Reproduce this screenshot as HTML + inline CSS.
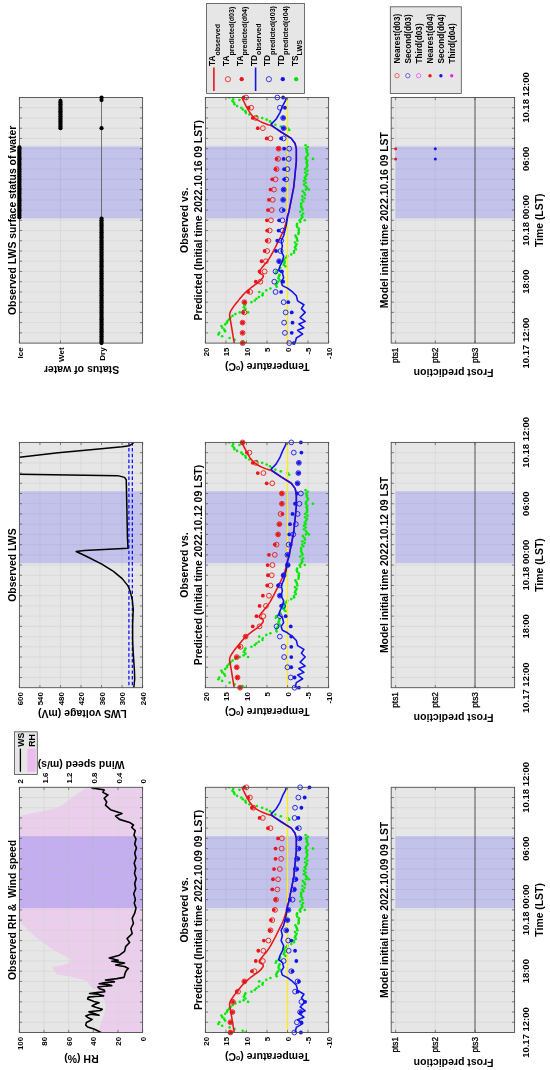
<!DOCTYPE html>
<html lang="en">
<head>
<meta charset="utf-8">
<title>Frost prediction panels</title>
<style>
html,body{margin:0;padding:0;background:#fff;}
body{width:550px;height:1070px;overflow:hidden;}
svg{display:block;}
text{font-family:"Liberation Sans",Arial,Helvetica,sans-serif;}
</style>
</head>
<body>
<svg width="550" height="1070" viewBox="0 0 550 1070" font-family="'Liberation Sans', Arial, Helvetica, sans-serif">
<rect width="550" height="1070" fill="#fff"/>
<defs>
<clipPath id="c00"><rect x="19.4" y="787.3" width="123.2" height="245.2"/></clipPath>
<clipPath id="c01"><rect x="19.4" y="442.4" width="123.2" height="245.3"/></clipPath>
<clipPath id="c02"><rect x="19.4" y="97.5" width="123.2" height="245.6"/></clipPath>
<clipPath id="c10"><rect x="205.4" y="787.3" width="123.2" height="245.2"/></clipPath>
<clipPath id="c11"><rect x="205.4" y="442.4" width="123.2" height="245.3"/></clipPath>
<clipPath id="c12"><rect x="205.4" y="97.5" width="123.2" height="245.6"/></clipPath>
<clipPath id="c20"><rect x="391.2" y="787.3" width="123.4" height="245.2"/></clipPath>
<clipPath id="c21"><rect x="391.2" y="442.4" width="123.4" height="245.3"/></clipPath>
<clipPath id="c22"><rect x="391.2" y="97.5" width="123.4" height="245.6"/></clipPath>
</defs>
<rect x="19.4" y="787.3" width="123.2" height="245.2" fill="#e6e6e6"/>
<polygon points="142.6,1032.5 99.08,1032.5 99.59,1027.77 101.12,1022.68 103.15,1017.59 104.68,1012.49 105.7,1007.4 105.44,1002.31 103.66,998.5 101.63,994.68 96.54,990.1 91.45,987.04 88.39,983.23 86.36,980.68 78.72,978.39 71.08,976.86 63.45,975.59 57.09,974.32 54.54,971.77 53.27,969.23 52,967.19 55.81,966.17 60.9,965.41 67.27,963.63 71.08,961.59 71.08,959.56 69.81,958.54 65.99,956.5 60.9,953.96 54.54,950.14 48.18,946.32 43.09,942.5 38,938.68 33.42,934.87 29.09,931.05 25.27,927.23 22.73,924.69 20.69,922.65 19.49,920.87 19.49,816.06 25.27,814.79 30.36,813.52 36.72,812.24 43.09,810.97 50.72,809.19 58.36,807.15 63.45,804.1 68.54,800.79 72.36,797.48 76.17,794.43 79.99,791.88 83.81,789.34 87.12,787.3 142.6,787.3" fill="#eaceec"/>
<path d="M19.4 1022.28H142.6M19.4 1012.07H142.6M19.4 1001.85H142.6M19.4 991.63H142.6M19.4 981.42H142.6M19.4 971.2H142.6M19.4 960.98H142.6M19.4 950.77H142.6M19.4 940.55H142.6M19.4 930.33H142.6M19.4 920.12H142.6M19.4 909.9H142.6M19.4 899.68H142.6M19.4 889.47H142.6M19.4 879.25H142.6M19.4 869.03H142.6M19.4 858.82H142.6M19.4 848.6H142.6M19.4 838.38H142.6M19.4 828.17H142.6M19.4 817.95H142.6M19.4 807.73H142.6M19.4 797.52H142.6M44.04 787.3V1032.5M68.68 787.3V1032.5M93.32 787.3V1032.5M117.96 787.3V1032.5" stroke="#d6d6d6" stroke-width="0.7" fill="none"/>
<rect x="19.4" y="836.14" width="123.2" height="71.93" fill="rgba(30,30,255,0.175)"/>
<polyline points="101,1032.5 96.55,1030.21 94,1028.94 87.64,1027.03 85.73,1025.12 86.36,1022.57 89.55,1021.05 92.09,1019.39 87.64,1017.48 85.73,1015.95 90.18,1014.3 99.09,1015.19 92.73,1013.03 88.91,1011.75 100.36,1010.48 102.27,1009.21 96.55,1007.55 92.09,1006.03 95.27,1004.12 99.09,1002.84 94,1001.57 87.64,999.03 88.27,997.12 95.27,996.48 103.55,995.84 97.82,994.32 89.55,993.55 96.55,992.66 104.82,991.77 104.18,990.12 99.73,988.84 97.82,986.94 104.18,986.3 111.82,985.66 107.36,984.39 99.09,983.75 105.46,982.48 114.36,981.84 110.55,980.57 105.46,979.94 116.91,978.66 123.91,977.39 124.55,975.48 125.18,972.94 126.46,970.39 128.36,968.48 124.55,966.57 120.73,965.94 115.64,965.04 120.73,964.03 124.55,963.01 118.18,962.12 111.82,961.23 118.18,960.21 109.26,958.03 119.44,955.23 124.53,951.41 125.81,946.32 129.62,942.5 127.08,938.68 132.17,933.59 130.9,928.5 133.44,923.41 132.17,918.32 134.71,913.23 135.99,908.14 134.2,903.05 135.22,900.51 135.22,898.78 133.7,893.69 135.73,888.6 134.71,883.51 136.24,878.42 134.46,873.33 135.73,868.24 134.2,863.15 135.99,858.06 134.71,852.97 136.5,847.88 134.71,844.06 135.99,838.97 133.95,835.15 135.22,830.57 131.66,827.51 133.44,824.97 129.62,822.42 119.44,819.37 115.62,816.06 121.99,813.52 110.53,809.7 105.44,805.12 106.72,802.06 104.17,798.24 107.99,794.94 102.9,792.39 104.17,789.85 91.95,788.06 91.95,787.3" fill="none" stroke="#000" stroke-width="1.6" stroke-linejoin="round" clip-path="url(#c00)"/>
<path d="M19.4 1022.28h2.6M142.6 1022.28h-2.6M19.4 1012.07h2.6M142.6 1012.07h-2.6M19.4 1001.85h2.6M142.6 1001.85h-2.6M19.4 991.63h2.6M142.6 991.63h-2.6M19.4 981.42h2.6M142.6 981.42h-2.6M19.4 971.2h2.6M142.6 971.2h-2.6M19.4 960.98h2.6M142.6 960.98h-2.6M19.4 950.77h2.6M142.6 950.77h-2.6M19.4 940.55h2.6M142.6 940.55h-2.6M19.4 930.33h2.6M142.6 930.33h-2.6M19.4 920.12h2.6M142.6 920.12h-2.6M19.4 909.9h2.6M142.6 909.9h-2.6M19.4 899.68h2.6M142.6 899.68h-2.6M19.4 889.47h2.6M142.6 889.47h-2.6M19.4 879.25h2.6M142.6 879.25h-2.6M19.4 869.03h2.6M142.6 869.03h-2.6M19.4 858.82h2.6M142.6 858.82h-2.6M19.4 848.6h2.6M142.6 848.6h-2.6M19.4 838.38h2.6M142.6 838.38h-2.6M19.4 828.17h2.6M142.6 828.17h-2.6M19.4 817.95h2.6M142.6 817.95h-2.6M19.4 807.73h2.6M142.6 807.73h-2.6M19.4 797.52h2.6M142.6 797.52h-2.6M19.4 1032.5v-2.6M19.4 787.3v2.6M44.04 1032.5v-2.6M44.04 787.3v2.6M68.68 1032.5v-2.6M68.68 787.3v2.6M93.32 1032.5v-2.6M93.32 787.3v2.6M117.96 1032.5v-2.6M117.96 787.3v2.6M142.6 1032.5v-2.6M142.6 787.3v2.6" stroke="#4d4d4d" stroke-width="0.7" fill="none"/>
<rect x="19.4" y="787.3" width="123.2" height="245.2" fill="none" stroke="#4d4d4d" stroke-width="0.9"/>
<text transform="translate(22.5,1036.9) scale(1.0,1) rotate(-90)" font-size="7.9" font-weight="bold" text-anchor="end" fill="#000">100</text>
<text transform="translate(47.14,1036.9) scale(1.0,1) rotate(-90)" font-size="7.9" font-weight="bold" text-anchor="end" fill="#000">80</text>
<text transform="translate(71.78,1036.9) scale(1.0,1) rotate(-90)" font-size="7.9" font-weight="bold" text-anchor="end" fill="#000">60</text>
<text transform="translate(96.42,1036.9) scale(1.0,1) rotate(-90)" font-size="7.9" font-weight="bold" text-anchor="end" fill="#000">40</text>
<text transform="translate(121.06,1036.9) scale(1.0,1) rotate(-90)" font-size="7.9" font-weight="bold" text-anchor="end" fill="#000">20</text>
<text transform="translate(145.7,1036.9) scale(1.0,1) rotate(-90)" font-size="7.9" font-weight="bold" text-anchor="end" fill="#000">0</text>
<text transform="translate(23,783.5) scale(1.0,1) rotate(-90)" font-size="7.9" font-weight="bold" text-anchor="start" fill="#000">2</text>
<text transform="translate(47.64,783.5) scale(1.0,1) rotate(-90)" font-size="7.9" font-weight="bold" text-anchor="start" fill="#000">1.6</text>
<text transform="translate(72.28,783.5) scale(1.0,1) rotate(-90)" font-size="7.9" font-weight="bold" text-anchor="start" fill="#000">1.2</text>
<text transform="translate(96.92,783.5) scale(1.0,1) rotate(-90)" font-size="7.9" font-weight="bold" text-anchor="start" fill="#000">0.8</text>
<text transform="translate(121.56,783.5) scale(1.0,1) rotate(-90)" font-size="7.9" font-weight="bold" text-anchor="start" fill="#000">0.4</text>
<text transform="translate(146.2,783.5) scale(1.0,1) rotate(-90)" font-size="7.9" font-weight="bold" text-anchor="start" fill="#000">0</text>
<text transform="translate(81.5,1054.6) scale(1.0,1) rotate(180)" font-size="10.5" font-weight="bold" text-anchor="middle" fill="#000">RH (%)</text>
<text transform="translate(81.1,760.5) scale(1.0,1) rotate(180)" font-size="10.5" font-weight="bold" text-anchor="middle" fill="#000">Wind speed (m/s)</text>
<text transform="translate(15.7,909.9) scale(1.0,1) rotate(-90)" font-size="10.4" font-weight="bold" text-anchor="middle" fill="#000">Observed RH &amp;&#160; Wind speed</text>
<rect x="14.5" y="731.8" width="22.8" height="42.7" fill="#e6e6e6" stroke="#4d4d4d" stroke-width="0.8"/>
<path d="M20.4 748.7V771.8" stroke="#000" stroke-width="1.3"/>
<rect x="27.3" y="748.7" width="8.5" height="23.1" fill="#eebbee"/>
<text transform="translate(24.1,746.8) scale(1.0,1) rotate(-90)" font-size="8.7" font-weight="bold" text-anchor="start" fill="#000">WS</text>
<text transform="translate(34.7,746.8) scale(1.0,1) rotate(-90)" font-size="8.7" font-weight="bold" text-anchor="start" fill="#000">RH</text>
<rect x="19.4" y="442.4" width="123.2" height="245.3" fill="#e6e6e6"/>
<path d="M19.4 677.48H142.6M19.4 667.26H142.6M19.4 657.04H142.6M19.4 646.82H142.6M19.4 636.6H142.6M19.4 626.38H142.6M19.4 616.15H142.6M19.4 605.93H142.6M19.4 595.71H142.6M19.4 585.49H142.6M19.4 575.27H142.6M19.4 565.05H142.6M19.4 554.83H142.6M19.4 544.61H142.6M19.4 534.39H142.6M19.4 524.17H142.6M19.4 513.95H142.6M19.4 503.73H142.6M19.4 493.5H142.6M19.4 483.28H142.6M19.4 473.06H142.6M19.4 462.84H142.6M19.4 452.62H142.6M39.93 442.4V687.7M60.47 442.4V687.7M81 442.4V687.7M101.53 442.4V687.7M122.07 442.4V687.7" stroke="#d6d6d6" stroke-width="0.7" fill="none"/>
<rect x="19.4" y="491.26" width="123.2" height="71.95" fill="rgba(30,30,255,0.175)"/>
<path d="M128.91 442.4V687.7" stroke="#0000ff" stroke-width="1.2" stroke-dasharray="3.4,2.3" fill="none"/>
<path d="M132.33 442.4V687.7" stroke="#0000ff" stroke-width="1.2" stroke-dasharray="3.4,2.3" fill="none"/>
<polyline points="133.82,687.7 134.69,678.97 134.4,670.25 133.24,652.79 132.65,641.15 132.65,623.7 133.24,609.15 132.36,600.43 130.33,591.7 128,585.88 122.18,578.61 113.45,571.34 101.82,564.06 87.27,556.79 76.22,551.55 84.36,550.39 128,548.35 127.42,536.43 126.84,507.34 126.25,479.7 124.51,477.37 117.82,475.63 19.49,474.17 -58.18,473.3 -58.18,458.75 19.49,457.3 58.18,452.65 96,449.15 122.18,446.83 129.45,445.66 133.82,442.75" fill="none" stroke="#000" stroke-width="1.5" stroke-linejoin="round" clip-path="url(#c01)"/>
<path d="M19.4 677.48h2.6M142.6 677.48h-2.6M19.4 667.26h2.6M142.6 667.26h-2.6M19.4 657.04h2.6M142.6 657.04h-2.6M19.4 646.82h2.6M142.6 646.82h-2.6M19.4 636.6h2.6M142.6 636.6h-2.6M19.4 626.38h2.6M142.6 626.38h-2.6M19.4 616.15h2.6M142.6 616.15h-2.6M19.4 605.93h2.6M142.6 605.93h-2.6M19.4 595.71h2.6M142.6 595.71h-2.6M19.4 585.49h2.6M142.6 585.49h-2.6M19.4 575.27h2.6M142.6 575.27h-2.6M19.4 565.05h2.6M142.6 565.05h-2.6M19.4 554.83h2.6M142.6 554.83h-2.6M19.4 544.61h2.6M142.6 544.61h-2.6M19.4 534.39h2.6M142.6 534.39h-2.6M19.4 524.17h2.6M142.6 524.17h-2.6M19.4 513.95h2.6M142.6 513.95h-2.6M19.4 503.73h2.6M142.6 503.73h-2.6M19.4 493.5h2.6M142.6 493.5h-2.6M19.4 483.28h2.6M142.6 483.28h-2.6M19.4 473.06h2.6M142.6 473.06h-2.6M19.4 462.84h2.6M142.6 462.84h-2.6M19.4 452.62h2.6M142.6 452.62h-2.6M19.4 687.7v-2.6M19.4 442.4v2.6M39.93 687.7v-2.6M39.93 442.4v2.6M60.47 687.7v-2.6M60.47 442.4v2.6M81 687.7v-2.6M81 442.4v2.6M101.53 687.7v-2.6M101.53 442.4v2.6M122.07 687.7v-2.6M122.07 442.4v2.6M142.6 687.7v-2.6M142.6 442.4v2.6" stroke="#4d4d4d" stroke-width="0.7" fill="none"/>
<rect x="19.4" y="442.4" width="123.2" height="245.3" fill="none" stroke="#4d4d4d" stroke-width="0.9"/>
<text transform="translate(22.5,692.1) scale(1.0,1) rotate(-90)" font-size="7.9" font-weight="bold" text-anchor="end" fill="#000">600</text>
<text transform="translate(43.03,692.1) scale(1.0,1) rotate(-90)" font-size="7.9" font-weight="bold" text-anchor="end" fill="#000">540</text>
<text transform="translate(63.57,692.1) scale(1.0,1) rotate(-90)" font-size="7.9" font-weight="bold" text-anchor="end" fill="#000">480</text>
<text transform="translate(84.1,692.1) scale(1.0,1) rotate(-90)" font-size="7.9" font-weight="bold" text-anchor="end" fill="#000">420</text>
<text transform="translate(104.63,692.1) scale(1.0,1) rotate(-90)" font-size="7.9" font-weight="bold" text-anchor="end" fill="#000">360</text>
<text transform="translate(125.17,692.1) scale(1.0,1) rotate(-90)" font-size="7.9" font-weight="bold" text-anchor="end" fill="#000">300</text>
<text transform="translate(145.7,692.1) scale(1.0,1) rotate(-90)" font-size="7.9" font-weight="bold" text-anchor="end" fill="#000">240</text>
<text transform="translate(82.3,710.4) scale(1.0,1) rotate(180)" font-size="10.5" font-weight="bold" text-anchor="middle" fill="#000">LWS voltage (mV)</text>
<text transform="translate(15.7,565.05) scale(1.0,1) rotate(-90)" font-size="10.4" font-weight="bold" text-anchor="middle" fill="#000">Observed LWS</text>
<rect x="19.4" y="97.5" width="123.2" height="245.6" fill="#e6e6e6"/>
<path d="M19.4 332.87H142.6M19.4 322.63H142.6M19.4 312.4H142.6M19.4 302.17H142.6M19.4 291.93H142.6M19.4 281.7H142.6M19.4 271.47H142.6M19.4 261.23H142.6M19.4 251H142.6M19.4 240.77H142.6M19.4 230.53H142.6M19.4 220.3H142.6M19.4 210.07H142.6M19.4 199.83H142.6M19.4 189.6H142.6M19.4 179.37H142.6M19.4 169.13H142.6M19.4 158.9H142.6M19.4 148.67H142.6M19.4 138.43H142.6M19.4 128.2H142.6M19.4 117.97H142.6M19.4 107.73H142.6M60.47 97.5V343.1" stroke="#d6d6d6" stroke-width="0.7" fill="none"/>
<rect x="19.4" y="146.42" width="123.2" height="72.04" fill="rgba(30,30,255,0.175)"/>
<path d="M101.53 97.5V343.1" stroke="#555" stroke-width="0.8"/>
<path d="M19.4 332.87h2.6M142.6 332.87h-2.6M19.4 322.63h2.6M142.6 322.63h-2.6M19.4 312.4h2.6M142.6 312.4h-2.6M19.4 302.17h2.6M142.6 302.17h-2.6M19.4 291.93h2.6M142.6 291.93h-2.6M19.4 281.7h2.6M142.6 281.7h-2.6M19.4 271.47h2.6M142.6 271.47h-2.6M19.4 261.23h2.6M142.6 261.23h-2.6M19.4 251h2.6M142.6 251h-2.6M19.4 240.77h2.6M142.6 240.77h-2.6M19.4 230.53h2.6M142.6 230.53h-2.6M19.4 220.3h2.6M142.6 220.3h-2.6M19.4 210.07h2.6M142.6 210.07h-2.6M19.4 199.83h2.6M142.6 199.83h-2.6M19.4 189.6h2.6M142.6 189.6h-2.6M19.4 179.37h2.6M142.6 179.37h-2.6M19.4 169.13h2.6M142.6 169.13h-2.6M19.4 158.9h2.6M142.6 158.9h-2.6M19.4 148.67h2.6M142.6 148.67h-2.6M19.4 138.43h2.6M142.6 138.43h-2.6M19.4 128.2h2.6M142.6 128.2h-2.6M19.4 117.97h2.6M142.6 117.97h-2.6M19.4 107.73h2.6M142.6 107.73h-2.6M19.4 343.1v-2.6M19.4 97.5v2.6M60.47 343.1v-2.6M60.47 97.5v2.6M101.53 343.1v-2.6M101.53 97.5v2.6" stroke="#4d4d4d" stroke-width="0.7" fill="none"/>
<rect x="19.4" y="97.5" width="123.2" height="245.6" fill="none" stroke="#4d4d4d" stroke-width="0.9"/>
<g fill="#000"><circle cx="101.53" cy="343.1" r="2.1"/><circle cx="101.53" cy="341.39" r="2.1"/><circle cx="101.53" cy="339.69" r="2.1"/><circle cx="101.53" cy="337.98" r="2.1"/><circle cx="101.53" cy="336.28" r="2.1"/><circle cx="101.53" cy="334.57" r="2.1"/><circle cx="101.53" cy="332.87" r="2.1"/><circle cx="101.53" cy="331.16" r="2.1"/><circle cx="101.53" cy="329.46" r="2.1"/><circle cx="101.53" cy="327.75" r="2.1"/><circle cx="101.53" cy="326.04" r="2.1"/><circle cx="101.53" cy="324.34" r="2.1"/><circle cx="101.53" cy="322.63" r="2.1"/><circle cx="101.53" cy="320.93" r="2.1"/><circle cx="101.53" cy="319.22" r="2.1"/><circle cx="101.53" cy="317.52" r="2.1"/><circle cx="101.53" cy="315.81" r="2.1"/><circle cx="101.53" cy="314.11" r="2.1"/><circle cx="101.53" cy="312.4" r="2.1"/><circle cx="101.53" cy="310.69" r="2.1"/><circle cx="101.53" cy="308.99" r="2.1"/><circle cx="101.53" cy="307.28" r="2.1"/><circle cx="101.53" cy="305.58" r="2.1"/><circle cx="101.53" cy="303.87" r="2.1"/><circle cx="101.53" cy="302.17" r="2.1"/><circle cx="101.53" cy="300.46" r="2.1"/><circle cx="101.53" cy="298.76" r="2.1"/><circle cx="101.53" cy="297.05" r="2.1"/><circle cx="101.53" cy="295.34" r="2.1"/><circle cx="101.53" cy="293.64" r="2.1"/><circle cx="101.53" cy="291.93" r="2.1"/><circle cx="101.53" cy="290.23" r="2.1"/><circle cx="101.53" cy="288.52" r="2.1"/><circle cx="101.53" cy="286.82" r="2.1"/><circle cx="101.53" cy="285.11" r="2.1"/><circle cx="101.53" cy="283.41" r="2.1"/><circle cx="101.53" cy="281.7" r="2.1"/><circle cx="101.53" cy="279.99" r="2.1"/><circle cx="101.53" cy="278.29" r="2.1"/><circle cx="101.53" cy="276.58" r="2.1"/><circle cx="101.53" cy="274.88" r="2.1"/><circle cx="101.53" cy="273.17" r="2.1"/><circle cx="101.53" cy="271.47" r="2.1"/><circle cx="101.53" cy="269.76" r="2.1"/><circle cx="101.53" cy="268.06" r="2.1"/><circle cx="101.53" cy="266.35" r="2.1"/><circle cx="101.53" cy="264.64" r="2.1"/><circle cx="101.53" cy="262.94" r="2.1"/><circle cx="101.53" cy="261.23" r="2.1"/><circle cx="101.53" cy="259.53" r="2.1"/><circle cx="101.53" cy="257.82" r="2.1"/><circle cx="101.53" cy="256.12" r="2.1"/><circle cx="101.53" cy="254.41" r="2.1"/><circle cx="101.53" cy="252.71" r="2.1"/><circle cx="101.53" cy="251" r="2.1"/><circle cx="101.53" cy="249.29" r="2.1"/><circle cx="101.53" cy="247.59" r="2.1"/><circle cx="101.53" cy="245.88" r="2.1"/><circle cx="101.53" cy="244.18" r="2.1"/><circle cx="101.53" cy="242.47" r="2.1"/><circle cx="101.53" cy="240.77" r="2.1"/><circle cx="101.53" cy="239.06" r="2.1"/><circle cx="101.53" cy="237.36" r="2.1"/><circle cx="101.53" cy="235.65" r="2.1"/><circle cx="101.53" cy="233.94" r="2.1"/><circle cx="101.53" cy="232.24" r="2.1"/><circle cx="101.53" cy="230.53" r="2.1"/><circle cx="101.53" cy="228.83" r="2.1"/><circle cx="101.53" cy="227.12" r="2.1"/><circle cx="101.53" cy="225.42" r="2.1"/><circle cx="101.53" cy="223.71" r="2.1"/><circle cx="101.53" cy="222.01" r="2.1"/><circle cx="101.53" cy="220.3" r="2.1"/><circle cx="101.53" cy="218.59" r="2.1"/></g>
<g fill="#000"><circle cx="19.4" cy="217.23" r="2.1"/><circle cx="19.4" cy="215.52" r="2.1"/><circle cx="19.4" cy="213.82" r="2.1"/><circle cx="19.4" cy="212.11" r="2.1"/><circle cx="19.4" cy="210.41" r="2.1"/><circle cx="19.4" cy="208.7" r="2.1"/><circle cx="19.4" cy="207" r="2.1"/><circle cx="19.4" cy="205.29" r="2.1"/><circle cx="19.4" cy="203.59" r="2.1"/><circle cx="19.4" cy="201.88" r="2.1"/><circle cx="19.4" cy="200.17" r="2.1"/><circle cx="19.4" cy="198.47" r="2.1"/><circle cx="19.4" cy="196.76" r="2.1"/><circle cx="19.4" cy="195.06" r="2.1"/><circle cx="19.4" cy="193.35" r="2.1"/><circle cx="19.4" cy="191.65" r="2.1"/><circle cx="19.4" cy="189.94" r="2.1"/><circle cx="19.4" cy="188.24" r="2.1"/><circle cx="19.4" cy="186.53" r="2.1"/><circle cx="19.4" cy="184.82" r="2.1"/><circle cx="19.4" cy="183.12" r="2.1"/><circle cx="19.4" cy="181.41" r="2.1"/><circle cx="19.4" cy="179.71" r="2.1"/><circle cx="19.4" cy="178" r="2.1"/><circle cx="19.4" cy="176.3" r="2.1"/><circle cx="19.4" cy="174.59" r="2.1"/><circle cx="19.4" cy="172.89" r="2.1"/><circle cx="19.4" cy="171.18" r="2.1"/><circle cx="19.4" cy="169.47" r="2.1"/><circle cx="19.4" cy="167.77" r="2.1"/><circle cx="19.4" cy="166.06" r="2.1"/><circle cx="19.4" cy="164.36" r="2.1"/><circle cx="19.4" cy="162.65" r="2.1"/><circle cx="19.4" cy="160.95" r="2.1"/><circle cx="19.4" cy="159.24" r="2.1"/><circle cx="19.4" cy="157.54" r="2.1"/><circle cx="19.4" cy="155.83" r="2.1"/><circle cx="19.4" cy="154.12" r="2.1"/><circle cx="19.4" cy="152.42" r="2.1"/><circle cx="19.4" cy="150.71" r="2.1"/><circle cx="19.4" cy="149.01" r="2.1"/><circle cx="19.4" cy="147.3" r="2.1"/></g>
<g fill="#000"><circle cx="60.47" cy="128.2" r="2.1"/><circle cx="60.47" cy="126.49" r="2.1"/><circle cx="60.47" cy="124.79" r="2.1"/><circle cx="60.47" cy="123.08" r="2.1"/><circle cx="60.47" cy="121.38" r="2.1"/><circle cx="60.47" cy="119.67" r="2.1"/><circle cx="60.47" cy="117.97" r="2.1"/><circle cx="60.47" cy="116.26" r="2.1"/><circle cx="60.47" cy="114.56" r="2.1"/><circle cx="60.47" cy="112.85" r="2.1"/><circle cx="60.47" cy="111.14" r="2.1"/><circle cx="60.47" cy="109.44" r="2.1"/><circle cx="60.47" cy="107.73" r="2.1"/><circle cx="60.47" cy="106.03" r="2.1"/><circle cx="60.47" cy="104.32" r="2.1"/><circle cx="60.47" cy="102.62" r="2.1"/><circle cx="60.47" cy="100.91" r="2.1"/></g>
<g fill="#000"><circle cx="101.53" cy="128.2" r="2.1"/></g>
<g fill="#000"><circle cx="101.53" cy="100.06" r="2.1"/><circle cx="101.53" cy="97.5" r="2.1"/></g>
<text transform="translate(22.7,347.4) scale(1.0,1) rotate(-90)" font-size="8" font-weight="bold" text-anchor="end" fill="#000">Ice</text>
<text transform="translate(63.77,347.4) scale(1.0,1) rotate(-90)" font-size="8" font-weight="bold" text-anchor="end" fill="#000">Wet</text>
<text transform="translate(104.83,347.4) scale(1.0,1) rotate(-90)" font-size="8" font-weight="bold" text-anchor="end" fill="#000">Dry</text>
<text transform="translate(81.5,366.4) scale(1.0,1) rotate(180)" font-size="10.5" font-weight="bold" text-anchor="middle" fill="#000">Status of water</text>
<text transform="translate(15.7,220.3) scale(1.0,1) rotate(-90)" font-size="10.4" font-weight="bold" text-anchor="middle" fill="#000">Observed LWS surface status of water</text>
<rect x="205.4" y="787.3" width="123.2" height="245.2" fill="#e6e6e6"/>
<path d="M205.4 1022.28H328.6M205.4 1012.07H328.6M205.4 1001.85H328.6M205.4 991.63H328.6M205.4 981.42H328.6M205.4 971.2H328.6M205.4 960.98H328.6M205.4 950.77H328.6M205.4 940.55H328.6M205.4 930.33H328.6M205.4 920.12H328.6M205.4 909.9H328.6M205.4 899.68H328.6M205.4 889.47H328.6M205.4 879.25H328.6M205.4 869.03H328.6M205.4 858.82H328.6M205.4 848.6H328.6M205.4 838.38H328.6M205.4 828.17H328.6M205.4 817.95H328.6M205.4 807.73H328.6M205.4 797.52H328.6M225.93 787.3V1032.5M246.47 787.3V1032.5M267 787.3V1032.5M287.53 787.3V1032.5M308.07 787.3V1032.5" stroke="#d6d6d6" stroke-width="0.7" fill="none"/>
<rect x="205.4" y="836.14" width="123.2" height="71.93" fill="rgba(30,30,255,0.175)"/>
<g clip-path="url(#c10)">
<g fill="#05ea05"><circle cx="245.01" cy="1032.5" r="1.3"/><circle cx="242.68" cy="1030.8" r="1.3"/><circle cx="234.57" cy="1029.09" r="1.3"/><circle cx="229.6" cy="1027.39" r="1.3"/><circle cx="222.17" cy="1025.69" r="1.3"/><circle cx="218.38" cy="1023.99" r="1.3"/><circle cx="219.22" cy="1022.28" r="1.3"/><circle cx="225.1" cy="1020.58" r="1.3"/><circle cx="224.19" cy="1018.88" r="1.3"/><circle cx="222.34" cy="1017.17" r="1.3"/><circle cx="221.4" cy="1015.47" r="1.3"/><circle cx="225.24" cy="1013.77" r="1.3"/><circle cx="226.85" cy="1012.07" r="1.3"/><circle cx="227.56" cy="1010.36" r="1.3"/><circle cx="229.12" cy="1008.66" r="1.3"/><circle cx="230.5" cy="1006.96" r="1.3"/><circle cx="232.64" cy="1005.26" r="1.3"/><circle cx="235.39" cy="1003.55" r="1.3"/><circle cx="239.74" cy="1001.85" r="1.3"/><circle cx="243.6" cy="1000.15" r="1.3"/><circle cx="245.41" cy="998.44" r="1.3"/><circle cx="243.82" cy="996.74" r="1.3"/><circle cx="244.67" cy="995.04" r="1.3"/><circle cx="245.41" cy="993.34" r="1.3"/><circle cx="251.48" cy="991.63" r="1.3"/><circle cx="254.77" cy="989.93" r="1.3"/><circle cx="256.43" cy="988.23" r="1.3"/><circle cx="258.83" cy="986.52" r="1.3"/><circle cx="262.46" cy="984.82" r="1.3"/><circle cx="262.76" cy="983.12" r="1.3"/><circle cx="259.27" cy="981.42" r="1.3"/><circle cx="266.28" cy="979.71" r="1.3"/><circle cx="270.43" cy="978.01" r="1.3"/><circle cx="276.67" cy="976.31" r="1.3"/><circle cx="276.08" cy="974.61" r="1.3"/><circle cx="276.93" cy="972.9" r="1.3"/><circle cx="278.1" cy="971.2" r="1.3"/><circle cx="279.67" cy="969.5" r="1.3"/><circle cx="278.45" cy="967.79" r="1.3"/><circle cx="278.84" cy="966.09" r="1.3"/><circle cx="279.51" cy="964.39" r="1.3"/><circle cx="275.74" cy="962.69" r="1.3"/><circle cx="276.44" cy="960.98" r="1.3"/><circle cx="279.18" cy="959.28" r="1.3"/><circle cx="280.26" cy="957.58" r="1.3"/><circle cx="285.38" cy="955.88" r="1.3"/><circle cx="283.81" cy="954.17" r="1.3"/><circle cx="284.46" cy="952.47" r="1.3"/><circle cx="284.49" cy="950.77" r="1.3"/><circle cx="284.08" cy="949.06" r="1.3"/><circle cx="285.71" cy="947.36" r="1.3"/><circle cx="287.4" cy="945.66" r="1.3"/><circle cx="291.3" cy="943.96" r="1.3"/><circle cx="294.06" cy="942.25" r="1.3"/><circle cx="294.05" cy="940.55" r="1.3"/><circle cx="295.84" cy="938.85" r="1.3"/><circle cx="294.96" cy="937.14" r="1.3"/><circle cx="295.76" cy="935.44" r="1.3"/><circle cx="296.65" cy="933.74" r="1.3"/><circle cx="295.03" cy="932.04" r="1.3"/><circle cx="297.39" cy="930.33" r="1.3"/><circle cx="297.01" cy="928.63" r="1.3"/><circle cx="296.34" cy="926.93" r="1.3"/><circle cx="295.42" cy="925.23" r="1.3"/><circle cx="298.48" cy="923.52" r="1.3"/><circle cx="298.74" cy="921.82" r="1.3"/><circle cx="298.65" cy="920.12" r="1.3"/><circle cx="299.03" cy="918.41" r="1.3"/><circle cx="297.25" cy="916.71" r="1.3"/><circle cx="296.81" cy="915.01" r="1.3"/><circle cx="297.1" cy="913.31" r="1.3"/><circle cx="300.34" cy="911.6" r="1.3"/><circle cx="299.67" cy="909.9" r="1.3"/><circle cx="301.25" cy="908.2" r="1.3"/><circle cx="302.35" cy="906.49" r="1.3"/><circle cx="301.78" cy="904.79" r="1.3"/><circle cx="303.15" cy="903.09" r="1.3"/><circle cx="300.25" cy="901.39" r="1.3"/><circle cx="302.53" cy="899.68" r="1.3"/><circle cx="302.09" cy="897.98" r="1.3"/><circle cx="301.04" cy="896.28" r="1.3"/><circle cx="301.22" cy="894.57" r="1.3"/><circle cx="301.09" cy="892.87" r="1.3"/><circle cx="303.3" cy="891.17" r="1.3"/><circle cx="302.16" cy="889.47" r="1.3"/><circle cx="304.53" cy="887.76" r="1.3"/><circle cx="302.34" cy="886.06" r="1.3"/><circle cx="305.08" cy="884.36" r="1.3"/><circle cx="304.31" cy="882.66" r="1.3"/><circle cx="302.81" cy="880.95" r="1.3"/><circle cx="305.92" cy="879.25" r="1.3"/><circle cx="307.06" cy="877.55" r="1.3"/><circle cx="305.8" cy="875.84" r="1.3"/><circle cx="303.97" cy="874.14" r="1.3"/><circle cx="305.72" cy="872.44" r="1.3"/><circle cx="303.92" cy="870.74" r="1.3"/><circle cx="305.64" cy="869.03" r="1.3"/><circle cx="304.79" cy="867.33" r="1.3"/><circle cx="306.02" cy="865.63" r="1.3"/><circle cx="306.98" cy="863.92" r="1.3"/><circle cx="305.21" cy="862.22" r="1.3"/><circle cx="307.44" cy="860.52" r="1.3"/><circle cx="305.16" cy="858.82" r="1.3"/><circle cx="306.7" cy="857.11" r="1.3"/><circle cx="307.26" cy="855.41" r="1.3"/><circle cx="307.1" cy="853.71" r="1.3"/><circle cx="306.52" cy="852.01" r="1.3"/><circle cx="307.22" cy="850.3" r="1.3"/><circle cx="305.92" cy="848.6" r="1.3"/><circle cx="306.12" cy="846.9" r="1.3"/><circle cx="307.51" cy="845.19" r="1.3"/><circle cx="307.94" cy="843.49" r="1.3"/><circle cx="306.75" cy="841.79" r="1.3"/><circle cx="306.96" cy="840.09" r="1.3"/><circle cx="306.15" cy="838.38" r="1.3"/><circle cx="307.79" cy="836.68" r="1.3"/><circle cx="305.56" cy="834.98" r="1.3"/><circle cx="289.24" cy="819.65" r="1.3"/><circle cx="287.76" cy="817.95" r="1.3"/><circle cx="280.83" cy="816.25" r="1.3"/><circle cx="275.35" cy="814.54" r="1.3"/><circle cx="271.88" cy="812.84" r="1.3"/><circle cx="269.95" cy="811.14" r="1.3"/><circle cx="266.68" cy="809.44" r="1.3"/><circle cx="262.19" cy="807.73" r="1.3"/><circle cx="256.77" cy="806.03" r="1.3"/><circle cx="249.41" cy="804.33" r="1.3"/><circle cx="245.89" cy="802.62" r="1.3"/><circle cx="245.35" cy="800.92" r="1.3"/><circle cx="242.83" cy="799.22" r="1.3"/><circle cx="241.33" cy="797.52" r="1.3"/><circle cx="237.1" cy="795.81" r="1.3"/><circle cx="234.52" cy="794.11" r="1.3"/><circle cx="233.85" cy="792.41" r="1.3"/><circle cx="232.42" cy="790.71" r="1.3"/><circle cx="233.17" cy="789" r="1.3"/><circle cx="229.26" cy="787.3" r="1.3"/><circle cx="312.99" cy="848.6" r="1.3"/><circle cx="308.89" cy="879.25" r="1.3"/><circle cx="304.78" cy="909.9" r="1.3"/><circle cx="248.11" cy="1001.85" r="1.3"/><circle cx="239.49" cy="789.85" r="1.3"/></g>
<path d="M287.53 787.3V1032.5" stroke="#ffee00" stroke-width="1.2"/>
<polyline points="234.22,1032.5 234.14,1032.02 233.99,1031.06 233.75,1029.63 233.43,1027.71 233.11,1025.8 232.8,1023.89 232.48,1021.97 232.16,1020.06 231.85,1018.14 231.53,1016.23 231.21,1014.32 230.9,1012.4 230.58,1010.57 230.26,1008.81 229.94,1007.14 229.63,1005.54 229.63,1003.95 229.94,1002.35 230.58,1000.76 231.53,999.16 232.56,997.57 233.67,995.97 234.86,994.38 236.12,992.78 237.47,991.11 238.9,989.35 240.4,987.52 241.99,985.6 243.65,983.77 245.39,982.01 247.21,980.34 249.12,978.74 251.02,977.23 252.92,975.79 254.82,974.44 256.72,973.16 258.46,971.8 260.05,970.37 261.47,968.85 262.74,967.26 263.3,965.9 263.14,964.79 262.27,963.91 260.68,963.27 259.65,962.55 259.18,961.75 259.26,960.88 259.89,959.92 260.84,958.64 262.11,957.05 263.69,955.13 265.59,952.9 267.34,950.67 268.92,948.44 270.35,946.2 271.61,943.97 272.88,941.66 274.15,939.26 275.42,936.79 276.68,934.24 277.95,931.69 279.22,929.13 280.49,926.58 281.75,924.03 282.89,921.48 283.91,918.92 284.8,916.37 285.56,913.82 286.17,911.59 286.65,909.67 286.98,908.08 287.17,906.8 287.31,905.84 287.41,905.21 287.46,904.89 288.72,902.15 291.26,889.39 293.79,876.63 295.06,863.87 296.33,851.11 296.33,838.35 295.06,833.24 291.26,828.14 281.12,821.76 273.51,816.65 270.98,815.37 270.5,815.22 269.55,814.9 268.13,814.42 266.23,813.78 264.33,813.06 262.42,812.26 260.52,811.39 258.62,810.43 256.88,809.39 255.29,808.28 253.87,807.08 252.6,805.8 251.41,804.45 250.3,803.01 249.27,801.5 248.32,799.9 247.45,798.39 246.66,796.95 245.95,795.59 245.31,794.32 244.68,793.04 244.05,791.77 243.41,790.49 242.78,789.21 242.3,788.26 241.99,787.62 241.83,787.3" fill="none" stroke="#ea1418" stroke-width="1.55" stroke-linejoin="round"/>
<polyline points="295.06,1032.5 296.33,1027.4 302.67,1023.57 297.6,1019.74 303.93,1017.19 298.86,1013.36 305.2,1010.81 300.13,1006.98 305.2,1001.87 301.4,998.04 303.93,994.22 297.6,990.39 296.33,985.28 292.53,981.45 287.46,977.63 282.39,975.07 281.12,971.25 283.65,967.42 282.39,962.31 278.58,959.76 279.85,955.93 282.39,950.83 283.65,945.72 281.12,940.62 282.39,935.51 281.12,930.41 283.65,925.31 284.92,920.2 286.19,915.1 287.46,907.44 286.7,909.81 288.72,902.15 291.26,889.39 293.79,876.63 295.06,863.87 296.33,851.11 296.33,838.35 295.06,833.24 291.26,828.14 281.12,821.76 273.51,816.65 270.98,814.1 276.05,808.99 279.85,802.61 282.39,796.23 285.68,789.85 286.19,787.3" fill="none" stroke="#1010ee" stroke-width="1.55" stroke-linejoin="round"/>
</g>
<g fill="none" stroke="#e8161a" stroke-width="0.9"><circle cx="230.42" cy="1032.5" r="2.4"/><circle cx="230.42" cy="1022.28" r="2.4"/><circle cx="232.45" cy="1012.07" r="2.4"/><circle cx="232.96" cy="1001.85" r="2.4"/><circle cx="238.03" cy="991.63" r="2.4"/><circle cx="244.36" cy="981.42" r="2.4"/><circle cx="254.5" cy="971.2" r="2.4"/><circle cx="262.87" cy="960.98" r="2.4"/><circle cx="263.37" cy="950.77" r="2.4"/><circle cx="268.44" cy="940.55" r="2.4"/><circle cx="270.47" cy="930.33" r="2.4"/><circle cx="272.25" cy="920.12" r="2.4"/><circle cx="275.04" cy="909.9" r="2.4"/><circle cx="276.05" cy="899.68" r="2.4"/><circle cx="277.32" cy="889.47" r="2.4"/><circle cx="278.08" cy="879.25" r="2.4"/><circle cx="279.85" cy="869.03" r="2.4"/><circle cx="281.12" cy="858.82" r="2.4"/><circle cx="281.63" cy="848.6" r="2.4"/><circle cx="281.88" cy="838.38" r="2.4"/><circle cx="270.47" cy="828.17" r="2.4"/><circle cx="262.87" cy="817.95" r="2.4"/><circle cx="253.24" cy="807.73" r="2.4"/><circle cx="249.94" cy="797.52" r="2.4"/><circle cx="246.39" cy="787.3" r="2.4"/></g>
<g fill="#e8161a"><circle cx="230.42" cy="1032.5" r="1.9"/><circle cx="230.42" cy="1022.28" r="1.9"/><circle cx="232.45" cy="1012.07" r="1.9"/><circle cx="232.96" cy="1001.85" r="1.9"/><circle cx="236.76" cy="991.63" r="1.9"/><circle cx="244.36" cy="981.42" r="1.9"/><circle cx="251.97" cy="971.2" r="1.9"/><circle cx="255.77" cy="960.98" r="1.9"/><circle cx="258.31" cy="950.77" r="1.9"/><circle cx="263.88" cy="940.55" r="1.9"/><circle cx="269.97" cy="930.33" r="1.9"/><circle cx="270.98" cy="920.12" r="1.9"/><circle cx="273.77" cy="909.9" r="1.9"/><circle cx="275.54" cy="899.68" r="1.9"/><circle cx="272.25" cy="889.47" r="1.9"/><circle cx="273.01" cy="879.25" r="1.9"/><circle cx="274.02" cy="869.03" r="1.9"/><circle cx="275.54" cy="858.82" r="1.9"/><circle cx="275.54" cy="848.6" r="1.9"/><circle cx="278.08" cy="838.38" r="1.9"/><circle cx="267.94" cy="828.17" r="1.9"/><circle cx="259.57" cy="817.95" r="1.9"/><circle cx="251.97" cy="807.73" r="1.9"/><circle cx="248.17" cy="797.52" r="1.9"/><circle cx="244.36" cy="787.3" r="1.9"/></g>
<g fill="none" stroke="#1414e6" stroke-width="0.9"><circle cx="294.3" cy="1032.5" r="2.4"/><circle cx="296.84" cy="1022.28" r="2.4"/><circle cx="300.13" cy="1012.07" r="2.4"/><circle cx="301.4" cy="1001.85" r="2.4"/><circle cx="295.06" cy="991.63" r="2.4"/><circle cx="297.6" cy="981.42" r="2.4"/><circle cx="291.26" cy="971.2" r="2.4"/><circle cx="283.65" cy="960.98" r="2.4"/><circle cx="288.72" cy="950.77" r="2.4"/><circle cx="288.22" cy="940.55" r="2.4"/><circle cx="286.19" cy="930.33" r="2.4"/><circle cx="287.46" cy="920.12" r="2.4"/><circle cx="288.47" cy="909.9" r="2.4"/><circle cx="292.53" cy="899.68" r="2.4"/><circle cx="293.79" cy="889.47" r="2.4"/><circle cx="295.06" cy="879.25" r="2.4"/><circle cx="295.82" cy="869.03" r="2.4"/><circle cx="297.09" cy="858.82" r="2.4"/><circle cx="298.36" cy="848.6" r="2.4"/><circle cx="299.37" cy="838.38" r="2.4"/><circle cx="298.86" cy="828.17" r="2.4"/><circle cx="294.56" cy="817.95" r="2.4"/><circle cx="295.06" cy="807.73" r="2.4"/><circle cx="298.36" cy="797.52" r="2.4"/><circle cx="300.13" cy="787.3" r="2.4"/></g>
<g fill="#1414e6"><circle cx="300.89" cy="1032.5" r="1.9"/><circle cx="301.4" cy="1022.28" r="1.9"/><circle cx="300.64" cy="1012.07" r="1.9"/><circle cx="305.2" cy="1001.85" r="1.9"/><circle cx="297.6" cy="991.63" r="1.9"/><circle cx="298.86" cy="981.42" r="1.9"/><circle cx="292.53" cy="971.2" r="1.9"/><circle cx="296.33" cy="960.98" r="1.9"/><circle cx="295.06" cy="950.77" r="1.9"/><circle cx="291.26" cy="940.55" r="1.9"/><circle cx="286.7" cy="930.33" r="1.9"/><circle cx="287.46" cy="920.12" r="1.9"/><circle cx="288.22" cy="909.9" r="1.9"/><circle cx="289.99" cy="899.68" r="1.9"/><circle cx="294.56" cy="889.47" r="1.9"/><circle cx="296.33" cy="879.25" r="1.9"/><circle cx="297.09" cy="869.03" r="1.9"/><circle cx="298.1" cy="858.82" r="1.9"/><circle cx="299.37" cy="848.6" r="1.9"/><circle cx="300.13" cy="838.38" r="1.9"/><circle cx="297.09" cy="828.17" r="1.9"/><circle cx="298.36" cy="817.95" r="1.9"/><circle cx="301.4" cy="807.73" r="1.9"/><circle cx="304.7" cy="797.52" r="1.9"/><circle cx="309.51" cy="787.3" r="1.9"/></g>
<path d="M205.4 1022.28h2.6M328.6 1022.28h-2.6M205.4 1012.07h2.6M328.6 1012.07h-2.6M205.4 1001.85h2.6M328.6 1001.85h-2.6M205.4 991.63h2.6M328.6 991.63h-2.6M205.4 981.42h2.6M328.6 981.42h-2.6M205.4 971.2h2.6M328.6 971.2h-2.6M205.4 960.98h2.6M328.6 960.98h-2.6M205.4 950.77h2.6M328.6 950.77h-2.6M205.4 940.55h2.6M328.6 940.55h-2.6M205.4 930.33h2.6M328.6 930.33h-2.6M205.4 920.12h2.6M328.6 920.12h-2.6M205.4 909.9h2.6M328.6 909.9h-2.6M205.4 899.68h2.6M328.6 899.68h-2.6M205.4 889.47h2.6M328.6 889.47h-2.6M205.4 879.25h2.6M328.6 879.25h-2.6M205.4 869.03h2.6M328.6 869.03h-2.6M205.4 858.82h2.6M328.6 858.82h-2.6M205.4 848.6h2.6M328.6 848.6h-2.6M205.4 838.38h2.6M328.6 838.38h-2.6M205.4 828.17h2.6M328.6 828.17h-2.6M205.4 817.95h2.6M328.6 817.95h-2.6M205.4 807.73h2.6M328.6 807.73h-2.6M205.4 797.52h2.6M328.6 797.52h-2.6M205.4 1032.5v-2.6M205.4 787.3v2.6M225.93 1032.5v-2.6M225.93 787.3v2.6M246.47 1032.5v-2.6M246.47 787.3v2.6M267 1032.5v-2.6M267 787.3v2.6M287.53 1032.5v-2.6M287.53 787.3v2.6M308.07 1032.5v-2.6M308.07 787.3v2.6M328.6 1032.5v-2.6M328.6 787.3v2.6" stroke="#4d4d4d" stroke-width="0.7" fill="none"/>
<rect x="205.4" y="787.3" width="123.2" height="245.2" fill="none" stroke="#4d4d4d" stroke-width="0.9"/>
<text transform="translate(208.5,1036.9) scale(1.0,1) rotate(-90)" font-size="7.9" font-weight="bold" text-anchor="end" fill="#000">20</text>
<text transform="translate(229.03,1036.9) scale(1.0,1) rotate(-90)" font-size="7.9" font-weight="bold" text-anchor="end" fill="#000">15</text>
<text transform="translate(249.57,1036.9) scale(1.0,1) rotate(-90)" font-size="7.9" font-weight="bold" text-anchor="end" fill="#000">10</text>
<text transform="translate(270.1,1036.9) scale(1.0,1) rotate(-90)" font-size="7.9" font-weight="bold" text-anchor="end" fill="#000">5</text>
<text transform="translate(290.63,1036.9) scale(1.0,1) rotate(-90)" font-size="7.9" font-weight="bold" text-anchor="end" fill="#000">0</text>
<text transform="translate(311.17,1036.9) scale(1.0,1) rotate(-90)" font-size="7.9" font-weight="bold" text-anchor="end" fill="#000">-5</text>
<text transform="translate(331.7,1036.9) scale(1.0,1) rotate(-90)" font-size="7.9" font-weight="bold" text-anchor="end" fill="#000">-10</text>
<text transform="translate(267.2,1052.5) scale(1.0,1) rotate(180)" font-size="10.5" font-weight="bold" text-anchor="middle" fill="#000">Temperature (<tspan font-size="7" dy="-3.4">o</tspan><tspan dy="3.4">C)</tspan></text>
<text transform="translate(188.4,909.9) scale(1.0,1) rotate(-90)" font-size="10.4" font-weight="bold" text-anchor="middle" fill="#000">Observed vs.</text>
<text transform="translate(201.6,909.9) scale(1.0,1) rotate(-90)" font-size="10.4" font-weight="bold" text-anchor="middle" fill="#000">Predicted (Initial time 2022.10.09 09 LST)</text>
<rect x="205.4" y="442.4" width="123.2" height="245.3" fill="#e6e6e6"/>
<path d="M205.4 677.48H328.6M205.4 667.26H328.6M205.4 657.04H328.6M205.4 646.82H328.6M205.4 636.6H328.6M205.4 626.38H328.6M205.4 616.15H328.6M205.4 605.93H328.6M205.4 595.71H328.6M205.4 585.49H328.6M205.4 575.27H328.6M205.4 565.05H328.6M205.4 554.83H328.6M205.4 544.61H328.6M205.4 534.39H328.6M205.4 524.17H328.6M205.4 513.95H328.6M205.4 503.73H328.6M205.4 493.5H328.6M205.4 483.28H328.6M205.4 473.06H328.6M205.4 462.84H328.6M205.4 452.62H328.6M225.93 442.4V687.7M246.47 442.4V687.7M267 442.4V687.7M287.53 442.4V687.7M308.07 442.4V687.7" stroke="#d6d6d6" stroke-width="0.7" fill="none"/>
<rect x="205.4" y="491.26" width="123.2" height="71.95" fill="rgba(30,30,255,0.175)"/>
<g clip-path="url(#c11)">
<g fill="#05ea05"><circle cx="245.01" cy="687.7" r="1.3"/><circle cx="242.68" cy="686" r="1.3"/><circle cx="234.57" cy="684.29" r="1.3"/><circle cx="229.6" cy="682.59" r="1.3"/><circle cx="222.17" cy="680.89" r="1.3"/><circle cx="218.38" cy="679.18" r="1.3"/><circle cx="219.22" cy="677.48" r="1.3"/><circle cx="225.1" cy="675.78" r="1.3"/><circle cx="224.19" cy="674.07" r="1.3"/><circle cx="222.34" cy="672.37" r="1.3"/><circle cx="221.4" cy="670.67" r="1.3"/><circle cx="225.24" cy="668.96" r="1.3"/><circle cx="226.85" cy="667.26" r="1.3"/><circle cx="227.56" cy="665.55" r="1.3"/><circle cx="229.12" cy="663.85" r="1.3"/><circle cx="230.5" cy="662.15" r="1.3"/><circle cx="232.64" cy="660.44" r="1.3"/><circle cx="235.39" cy="658.74" r="1.3"/><circle cx="239.74" cy="657.04" r="1.3"/><circle cx="243.6" cy="655.33" r="1.3"/><circle cx="245.41" cy="653.63" r="1.3"/><circle cx="243.82" cy="651.93" r="1.3"/><circle cx="244.67" cy="650.22" r="1.3"/><circle cx="245.41" cy="648.52" r="1.3"/><circle cx="251.48" cy="646.82" r="1.3"/><circle cx="254.77" cy="645.11" r="1.3"/><circle cx="256.43" cy="643.41" r="1.3"/><circle cx="258.83" cy="641.71" r="1.3"/><circle cx="262.46" cy="640" r="1.3"/><circle cx="262.76" cy="638.3" r="1.3"/><circle cx="259.27" cy="636.6" r="1.3"/><circle cx="266.28" cy="634.89" r="1.3"/><circle cx="270.43" cy="633.19" r="1.3"/><circle cx="276.67" cy="631.49" r="1.3"/><circle cx="276.08" cy="629.78" r="1.3"/><circle cx="276.93" cy="628.08" r="1.3"/><circle cx="278.1" cy="626.38" r="1.3"/><circle cx="279.67" cy="624.67" r="1.3"/><circle cx="278.45" cy="622.97" r="1.3"/><circle cx="278.84" cy="621.26" r="1.3"/><circle cx="279.51" cy="619.56" r="1.3"/><circle cx="275.74" cy="617.86" r="1.3"/><circle cx="276.44" cy="616.15" r="1.3"/><circle cx="279.18" cy="614.45" r="1.3"/><circle cx="280.26" cy="612.75" r="1.3"/><circle cx="285.38" cy="611.04" r="1.3"/><circle cx="283.81" cy="609.34" r="1.3"/><circle cx="284.46" cy="607.64" r="1.3"/><circle cx="284.49" cy="605.93" r="1.3"/><circle cx="284.08" cy="604.23" r="1.3"/><circle cx="285.71" cy="602.53" r="1.3"/><circle cx="287.4" cy="600.82" r="1.3"/><circle cx="291.3" cy="599.12" r="1.3"/><circle cx="294.06" cy="597.42" r="1.3"/><circle cx="294.05" cy="595.71" r="1.3"/><circle cx="295.84" cy="594.01" r="1.3"/><circle cx="294.96" cy="592.31" r="1.3"/><circle cx="295.76" cy="590.6" r="1.3"/><circle cx="296.65" cy="588.9" r="1.3"/><circle cx="295.03" cy="587.2" r="1.3"/><circle cx="297.39" cy="585.49" r="1.3"/><circle cx="297.01" cy="583.79" r="1.3"/><circle cx="296.34" cy="582.08" r="1.3"/><circle cx="295.42" cy="580.38" r="1.3"/><circle cx="298.48" cy="578.68" r="1.3"/><circle cx="298.74" cy="576.97" r="1.3"/><circle cx="298.65" cy="575.27" r="1.3"/><circle cx="299.03" cy="573.57" r="1.3"/><circle cx="297.25" cy="571.86" r="1.3"/><circle cx="296.81" cy="570.16" r="1.3"/><circle cx="297.1" cy="568.46" r="1.3"/><circle cx="300.34" cy="566.75" r="1.3"/><circle cx="299.67" cy="565.05" r="1.3"/><circle cx="301.25" cy="563.35" r="1.3"/><circle cx="302.35" cy="561.64" r="1.3"/><circle cx="301.78" cy="559.94" r="1.3"/><circle cx="303.15" cy="558.24" r="1.3"/><circle cx="300.25" cy="556.53" r="1.3"/><circle cx="302.53" cy="554.83" r="1.3"/><circle cx="302.09" cy="553.13" r="1.3"/><circle cx="301.04" cy="551.42" r="1.3"/><circle cx="301.22" cy="549.72" r="1.3"/><circle cx="301.09" cy="548.02" r="1.3"/><circle cx="303.3" cy="546.31" r="1.3"/><circle cx="302.16" cy="544.61" r="1.3"/><circle cx="304.53" cy="542.9" r="1.3"/><circle cx="302.34" cy="541.2" r="1.3"/><circle cx="305.08" cy="539.5" r="1.3"/><circle cx="304.31" cy="537.79" r="1.3"/><circle cx="302.81" cy="536.09" r="1.3"/><circle cx="305.92" cy="534.39" r="1.3"/><circle cx="307.06" cy="532.68" r="1.3"/><circle cx="305.8" cy="530.98" r="1.3"/><circle cx="303.97" cy="529.28" r="1.3"/><circle cx="305.72" cy="527.57" r="1.3"/><circle cx="303.92" cy="525.87" r="1.3"/><circle cx="305.64" cy="524.17" r="1.3"/><circle cx="304.79" cy="522.46" r="1.3"/><circle cx="306.02" cy="520.76" r="1.3"/><circle cx="306.98" cy="519.06" r="1.3"/><circle cx="305.21" cy="517.35" r="1.3"/><circle cx="307.44" cy="515.65" r="1.3"/><circle cx="305.16" cy="513.95" r="1.3"/><circle cx="306.7" cy="512.24" r="1.3"/><circle cx="307.26" cy="510.54" r="1.3"/><circle cx="307.1" cy="508.84" r="1.3"/><circle cx="306.52" cy="507.13" r="1.3"/><circle cx="307.22" cy="505.43" r="1.3"/><circle cx="305.92" cy="503.73" r="1.3"/><circle cx="306.12" cy="502.02" r="1.3"/><circle cx="307.51" cy="500.32" r="1.3"/><circle cx="307.94" cy="498.61" r="1.3"/><circle cx="306.75" cy="496.91" r="1.3"/><circle cx="306.96" cy="495.21" r="1.3"/><circle cx="306.15" cy="493.5" r="1.3"/><circle cx="307.79" cy="491.8" r="1.3"/><circle cx="305.56" cy="490.1" r="1.3"/><circle cx="289.24" cy="474.77" r="1.3"/><circle cx="287.76" cy="473.06" r="1.3"/><circle cx="280.83" cy="471.36" r="1.3"/><circle cx="275.35" cy="469.66" r="1.3"/><circle cx="271.88" cy="467.95" r="1.3"/><circle cx="269.95" cy="466.25" r="1.3"/><circle cx="266.68" cy="464.55" r="1.3"/><circle cx="262.19" cy="462.84" r="1.3"/><circle cx="256.77" cy="461.14" r="1.3"/><circle cx="249.41" cy="459.43" r="1.3"/><circle cx="245.89" cy="457.73" r="1.3"/><circle cx="245.35" cy="456.03" r="1.3"/><circle cx="242.83" cy="454.32" r="1.3"/><circle cx="241.33" cy="452.62" r="1.3"/><circle cx="237.1" cy="450.92" r="1.3"/><circle cx="234.52" cy="449.21" r="1.3"/><circle cx="233.85" cy="447.51" r="1.3"/><circle cx="232.42" cy="445.81" r="1.3"/><circle cx="233.17" cy="444.1" r="1.3"/><circle cx="229.26" cy="442.4" r="1.3"/><circle cx="312.99" cy="503.73" r="1.3"/><circle cx="308.89" cy="534.39" r="1.3"/><circle cx="304.78" cy="565.05" r="1.3"/><circle cx="248.11" cy="657.04" r="1.3"/><circle cx="239.49" cy="444.96" r="1.3"/></g>
<path d="M287.53 442.4V687.7" stroke="#ffee00" stroke-width="1.2"/>
<polyline points="234.22,687.7 234.14,687.22 233.99,686.26 233.75,684.83 233.43,682.91 233.11,681 232.8,679.08 232.48,677.17 232.16,675.25 231.85,673.34 231.53,671.42 231.21,669.51 230.9,667.59 230.58,665.76 230.26,664 229.94,662.33 229.63,660.73 229.63,659.14 229.94,657.54 230.58,655.94 231.53,654.35 232.56,652.75 233.67,651.16 234.86,649.56 236.12,647.96 237.47,646.29 238.9,644.53 240.4,642.7 241.99,640.78 243.65,638.95 245.39,637.19 247.21,635.52 249.12,633.92 251.02,632.41 252.92,630.97 254.82,629.61 256.72,628.34 258.46,626.98 260.05,625.54 261.47,624.03 262.74,622.43 263.3,621.08 263.14,619.96 262.27,619.08 260.68,618.44 259.65,617.72 259.18,616.93 259.26,616.05 259.89,615.09 260.84,613.81 262.11,612.22 263.69,610.3 265.59,608.07 267.34,605.84 268.92,603.6 270.35,601.37 271.61,599.13 272.88,596.82 274.15,594.43 275.42,591.95 276.68,589.4 277.95,586.84 279.22,584.29 280.49,581.74 281.75,579.19 282.89,576.63 283.91,574.08 284.8,571.53 285.56,568.97 286.17,566.74 286.65,564.82 286.98,563.23 287.17,561.95 287.31,560.99 287.41,560.35 287.46,560.04 288.72,557.3 291.26,544.53 293.79,531.77 295.06,519 296.33,506.23 296.33,493.47 295.06,488.36 291.26,483.25 281.12,476.87 273.51,471.76 270.98,470.49 270.5,470.33 269.55,470.01 268.13,469.53 266.23,468.89 264.33,468.17 262.42,467.37 260.52,466.5 258.62,465.54 256.88,464.5 255.29,463.38 253.87,462.19 252.6,460.91 251.41,459.55 250.3,458.12 249.27,456.6 248.32,455.01 247.45,453.49 246.66,452.05 245.95,450.7 245.31,449.42 244.68,448.14 244.05,446.87 243.41,445.59 242.78,444.31 242.3,443.36 241.99,442.72 241.83,442.4" fill="none" stroke="#ea1418" stroke-width="1.55" stroke-linejoin="round"/>
<polyline points="295.06,687.7 296.33,682.59 302.67,678.76 297.6,674.93 303.93,672.38 298.86,668.55 305.2,666 300.13,662.17 305.2,657.06 301.4,653.23 303.93,649.4 297.6,645.57 296.33,640.46 292.53,636.63 287.46,632.8 282.39,630.25 281.12,626.42 283.65,622.59 282.39,617.48 278.58,614.93 279.85,611.1 282.39,605.99 283.65,600.89 281.12,595.78 282.39,590.67 281.12,585.57 283.65,580.46 284.92,575.36 286.19,570.25 287.46,562.59 286.7,564.96 288.72,557.3 291.26,544.53 293.79,531.77 295.06,519 296.33,506.23 296.33,493.47 295.06,488.36 291.26,483.25 281.12,476.87 273.51,471.76 270.98,469.21 276.05,464.1 279.85,457.72 282.39,451.34 285.68,444.95 286.19,442.4" fill="none" stroke="#1010ee" stroke-width="1.55" stroke-linejoin="round"/>
</g>
<g fill="none" stroke="#e8161a" stroke-width="0.9"><circle cx="240.05" cy="687.7" r="2.4"/><circle cx="237.52" cy="677.48" r="2.4"/><circle cx="236.76" cy="667.26" r="2.4"/><circle cx="236.76" cy="657.04" r="2.4"/><circle cx="240.56" cy="646.82" r="2.4"/><circle cx="245.63" cy="636.6" r="2.4"/><circle cx="259.57" cy="626.38" r="2.4"/><circle cx="263.37" cy="616.15" r="2.4"/><circle cx="265.91" cy="605.93" r="2.4"/><circle cx="268.95" cy="595.71" r="2.4"/><circle cx="270.47" cy="585.49" r="2.4"/><circle cx="271.74" cy="575.27" r="2.4"/><circle cx="272.5" cy="565.05" r="2.4"/><circle cx="274.78" cy="554.83" r="2.4"/><circle cx="276.56" cy="544.61" r="2.4"/><circle cx="278.08" cy="534.39" r="2.4"/><circle cx="279.35" cy="524.17" r="2.4"/><circle cx="280.61" cy="513.95" r="2.4"/><circle cx="281.88" cy="503.73" r="2.4"/><circle cx="281.88" cy="493.5" r="2.4"/><circle cx="272.25" cy="483.28" r="2.4"/><circle cx="263.37" cy="473.06" r="2.4"/><circle cx="255.77" cy="462.84" r="2.4"/><circle cx="249.43" cy="452.62" r="2.4"/><circle cx="242.59" cy="442.4" r="2.4"/></g>
<g fill="#e8161a"><circle cx="240.05" cy="687.7" r="1.9"/><circle cx="237.52" cy="677.48" r="1.9"/><circle cx="236.76" cy="667.26" r="1.9"/><circle cx="236.76" cy="657.04" r="1.9"/><circle cx="239.29" cy="646.82" r="1.9"/><circle cx="245.63" cy="636.6" r="1.9"/><circle cx="252.73" cy="626.38" r="1.9"/><circle cx="256.53" cy="616.15" r="1.9"/><circle cx="259.57" cy="605.93" r="1.9"/><circle cx="262.87" cy="595.71" r="1.9"/><circle cx="267.18" cy="585.49" r="1.9"/><circle cx="267.94" cy="575.27" r="1.9"/><circle cx="267.68" cy="565.05" r="1.9"/><circle cx="268.95" cy="554.83" r="1.9"/><circle cx="274.78" cy="544.61" r="1.9"/><circle cx="278.08" cy="534.39" r="1.9"/><circle cx="279.35" cy="524.17" r="1.9"/><circle cx="282.39" cy="513.95" r="1.9"/><circle cx="281.88" cy="503.73" r="1.9"/><circle cx="281.88" cy="493.5" r="1.9"/><circle cx="266.67" cy="483.28" r="1.9"/><circle cx="257.8" cy="473.06" r="1.9"/><circle cx="252.73" cy="462.84" r="1.9"/><circle cx="246.9" cy="452.62" r="1.9"/><circle cx="242.59" cy="442.4" r="1.9"/></g>
<g fill="none" stroke="#1414e6" stroke-width="0.9"><circle cx="294.56" cy="687.7" r="2.4"/><circle cx="290.75" cy="677.48" r="2.4"/><circle cx="287.46" cy="667.26" r="2.4"/><circle cx="284.16" cy="657.04" r="2.4"/><circle cx="283.65" cy="646.82" r="2.4"/><circle cx="279.85" cy="636.6" r="2.4"/><circle cx="276.56" cy="626.38" r="2.4"/><circle cx="279.85" cy="616.15" r="2.4"/><circle cx="283.15" cy="605.93" r="2.4"/><circle cx="279.85" cy="595.71" r="2.4"/><circle cx="279.85" cy="585.49" r="2.4"/><circle cx="283.65" cy="575.27" r="2.4"/><circle cx="287.71" cy="565.05" r="2.4"/><circle cx="287.46" cy="554.83" r="2.4"/><circle cx="288.72" cy="544.61" r="2.4"/><circle cx="293.29" cy="534.39" r="2.4"/><circle cx="295.82" cy="524.17" r="2.4"/><circle cx="297.6" cy="513.95" r="2.4"/><circle cx="299.37" cy="503.73" r="2.4"/><circle cx="300.89" cy="493.5" r="2.4"/><circle cx="297.6" cy="483.28" r="2.4"/><circle cx="298.36" cy="473.06" r="2.4"/><circle cx="298.86" cy="462.84" r="2.4"/><circle cx="293.79" cy="452.62" r="2.4"/><circle cx="291.26" cy="442.4" r="2.4"/></g>
<g fill="#1414e6"><circle cx="298.86" cy="687.7" r="1.9"/><circle cx="294.56" cy="677.48" r="1.9"/><circle cx="291.26" cy="667.26" r="1.9"/><circle cx="291.26" cy="657.04" r="1.9"/><circle cx="291.26" cy="646.82" r="1.9"/><circle cx="291.26" cy="636.6" r="1.9"/><circle cx="290.75" cy="626.38" r="1.9"/><circle cx="285.68" cy="616.15" r="1.9"/><circle cx="281.12" cy="605.93" r="1.9"/><circle cx="279.85" cy="595.71" r="1.9"/><circle cx="278.08" cy="585.49" r="1.9"/><circle cx="283.15" cy="575.27" r="1.9"/><circle cx="288.22" cy="565.05" r="1.9"/><circle cx="287.71" cy="554.83" r="1.9"/><circle cx="290.75" cy="544.61" r="1.9"/><circle cx="289.23" cy="534.39" r="1.9"/><circle cx="289.99" cy="524.17" r="1.9"/><circle cx="292.53" cy="513.95" r="1.9"/><circle cx="295.06" cy="503.73" r="1.9"/><circle cx="297.09" cy="493.5" r="1.9"/><circle cx="297.6" cy="483.28" r="1.9"/><circle cx="298.36" cy="473.06" r="1.9"/><circle cx="298.86" cy="462.84" r="1.9"/><circle cx="301.4" cy="452.62" r="1.9"/><circle cx="300.89" cy="442.4" r="1.9"/></g>
<path d="M205.4 677.48h2.6M328.6 677.48h-2.6M205.4 667.26h2.6M328.6 667.26h-2.6M205.4 657.04h2.6M328.6 657.04h-2.6M205.4 646.82h2.6M328.6 646.82h-2.6M205.4 636.6h2.6M328.6 636.6h-2.6M205.4 626.38h2.6M328.6 626.38h-2.6M205.4 616.15h2.6M328.6 616.15h-2.6M205.4 605.93h2.6M328.6 605.93h-2.6M205.4 595.71h2.6M328.6 595.71h-2.6M205.4 585.49h2.6M328.6 585.49h-2.6M205.4 575.27h2.6M328.6 575.27h-2.6M205.4 565.05h2.6M328.6 565.05h-2.6M205.4 554.83h2.6M328.6 554.83h-2.6M205.4 544.61h2.6M328.6 544.61h-2.6M205.4 534.39h2.6M328.6 534.39h-2.6M205.4 524.17h2.6M328.6 524.17h-2.6M205.4 513.95h2.6M328.6 513.95h-2.6M205.4 503.73h2.6M328.6 503.73h-2.6M205.4 493.5h2.6M328.6 493.5h-2.6M205.4 483.28h2.6M328.6 483.28h-2.6M205.4 473.06h2.6M328.6 473.06h-2.6M205.4 462.84h2.6M328.6 462.84h-2.6M205.4 452.62h2.6M328.6 452.62h-2.6M205.4 687.7v-2.6M205.4 442.4v2.6M225.93 687.7v-2.6M225.93 442.4v2.6M246.47 687.7v-2.6M246.47 442.4v2.6M267 687.7v-2.6M267 442.4v2.6M287.53 687.7v-2.6M287.53 442.4v2.6M308.07 687.7v-2.6M308.07 442.4v2.6M328.6 687.7v-2.6M328.6 442.4v2.6" stroke="#4d4d4d" stroke-width="0.7" fill="none"/>
<rect x="205.4" y="442.4" width="123.2" height="245.3" fill="none" stroke="#4d4d4d" stroke-width="0.9"/>
<text transform="translate(208.5,692.1) scale(1.0,1) rotate(-90)" font-size="7.9" font-weight="bold" text-anchor="end" fill="#000">20</text>
<text transform="translate(229.03,692.1) scale(1.0,1) rotate(-90)" font-size="7.9" font-weight="bold" text-anchor="end" fill="#000">15</text>
<text transform="translate(249.57,692.1) scale(1.0,1) rotate(-90)" font-size="7.9" font-weight="bold" text-anchor="end" fill="#000">10</text>
<text transform="translate(270.1,692.1) scale(1.0,1) rotate(-90)" font-size="7.9" font-weight="bold" text-anchor="end" fill="#000">5</text>
<text transform="translate(290.63,692.1) scale(1.0,1) rotate(-90)" font-size="7.9" font-weight="bold" text-anchor="end" fill="#000">0</text>
<text transform="translate(311.17,692.1) scale(1.0,1) rotate(-90)" font-size="7.9" font-weight="bold" text-anchor="end" fill="#000">-5</text>
<text transform="translate(331.7,692.1) scale(1.0,1) rotate(-90)" font-size="7.9" font-weight="bold" text-anchor="end" fill="#000">-10</text>
<text transform="translate(267.2,707.7) scale(1.0,1) rotate(180)" font-size="10.5" font-weight="bold" text-anchor="middle" fill="#000">Temperature (<tspan font-size="7" dy="-3.4">o</tspan><tspan dy="3.4">C)</tspan></text>
<text transform="translate(188.4,565.05) scale(1.0,1) rotate(-90)" font-size="10.4" font-weight="bold" text-anchor="middle" fill="#000">Observed vs.</text>
<text transform="translate(201.6,565.05) scale(1.0,1) rotate(-90)" font-size="10.4" font-weight="bold" text-anchor="middle" fill="#000">Predicted (Initial time 2022.10.12 09 LST)</text>
<rect x="205.4" y="97.5" width="123.2" height="245.6" fill="#e6e6e6"/>
<path d="M205.4 332.87H328.6M205.4 322.63H328.6M205.4 312.4H328.6M205.4 302.17H328.6M205.4 291.93H328.6M205.4 281.7H328.6M205.4 271.47H328.6M205.4 261.23H328.6M205.4 251H328.6M205.4 240.77H328.6M205.4 230.53H328.6M205.4 220.3H328.6M205.4 210.07H328.6M205.4 199.83H328.6M205.4 189.6H328.6M205.4 179.37H328.6M205.4 169.13H328.6M205.4 158.9H328.6M205.4 148.67H328.6M205.4 138.43H328.6M205.4 128.2H328.6M205.4 117.97H328.6M205.4 107.73H328.6M225.93 97.5V343.1M246.47 97.5V343.1M267 97.5V343.1M287.53 97.5V343.1M308.07 97.5V343.1" stroke="#d6d6d6" stroke-width="0.7" fill="none"/>
<rect x="205.4" y="146.42" width="123.2" height="72.04" fill="rgba(30,30,255,0.175)"/>
<g clip-path="url(#c12)">
<g fill="#05ea05"><circle cx="245.01" cy="343.1" r="1.3"/><circle cx="242.68" cy="341.39" r="1.3"/><circle cx="234.57" cy="339.69" r="1.3"/><circle cx="229.6" cy="337.98" r="1.3"/><circle cx="222.17" cy="336.28" r="1.3"/><circle cx="218.38" cy="334.57" r="1.3"/><circle cx="219.22" cy="332.87" r="1.3"/><circle cx="225.1" cy="331.16" r="1.3"/><circle cx="224.19" cy="329.46" r="1.3"/><circle cx="222.34" cy="327.75" r="1.3"/><circle cx="221.4" cy="326.04" r="1.3"/><circle cx="225.24" cy="324.34" r="1.3"/><circle cx="226.85" cy="322.63" r="1.3"/><circle cx="227.56" cy="320.93" r="1.3"/><circle cx="229.12" cy="319.22" r="1.3"/><circle cx="230.5" cy="317.52" r="1.3"/><circle cx="232.64" cy="315.81" r="1.3"/><circle cx="235.39" cy="314.11" r="1.3"/><circle cx="239.74" cy="312.4" r="1.3"/><circle cx="243.6" cy="310.69" r="1.3"/><circle cx="245.41" cy="308.99" r="1.3"/><circle cx="243.82" cy="307.28" r="1.3"/><circle cx="244.67" cy="305.58" r="1.3"/><circle cx="245.41" cy="303.87" r="1.3"/><circle cx="251.48" cy="302.17" r="1.3"/><circle cx="254.77" cy="300.46" r="1.3"/><circle cx="256.43" cy="298.76" r="1.3"/><circle cx="258.83" cy="297.05" r="1.3"/><circle cx="262.46" cy="295.34" r="1.3"/><circle cx="262.76" cy="293.64" r="1.3"/><circle cx="259.27" cy="291.93" r="1.3"/><circle cx="266.28" cy="290.23" r="1.3"/><circle cx="270.43" cy="288.52" r="1.3"/><circle cx="276.67" cy="286.82" r="1.3"/><circle cx="276.08" cy="285.11" r="1.3"/><circle cx="276.93" cy="283.41" r="1.3"/><circle cx="278.1" cy="281.7" r="1.3"/><circle cx="279.67" cy="279.99" r="1.3"/><circle cx="278.45" cy="278.29" r="1.3"/><circle cx="278.84" cy="276.58" r="1.3"/><circle cx="279.51" cy="274.88" r="1.3"/><circle cx="275.74" cy="273.17" r="1.3"/><circle cx="276.44" cy="271.47" r="1.3"/><circle cx="279.18" cy="269.76" r="1.3"/><circle cx="280.26" cy="268.06" r="1.3"/><circle cx="285.38" cy="266.35" r="1.3"/><circle cx="283.81" cy="264.64" r="1.3"/><circle cx="284.46" cy="262.94" r="1.3"/><circle cx="284.49" cy="261.23" r="1.3"/><circle cx="284.08" cy="259.53" r="1.3"/><circle cx="285.71" cy="257.82" r="1.3"/><circle cx="287.4" cy="256.12" r="1.3"/><circle cx="291.3" cy="254.41" r="1.3"/><circle cx="294.06" cy="252.71" r="1.3"/><circle cx="294.05" cy="251" r="1.3"/><circle cx="295.84" cy="249.29" r="1.3"/><circle cx="294.96" cy="247.59" r="1.3"/><circle cx="295.76" cy="245.88" r="1.3"/><circle cx="296.65" cy="244.18" r="1.3"/><circle cx="295.03" cy="242.47" r="1.3"/><circle cx="297.39" cy="240.77" r="1.3"/><circle cx="297.01" cy="239.06" r="1.3"/><circle cx="296.34" cy="237.36" r="1.3"/><circle cx="295.42" cy="235.65" r="1.3"/><circle cx="298.48" cy="233.94" r="1.3"/><circle cx="298.74" cy="232.24" r="1.3"/><circle cx="298.65" cy="230.53" r="1.3"/><circle cx="299.03" cy="228.83" r="1.3"/><circle cx="297.25" cy="227.12" r="1.3"/><circle cx="296.81" cy="225.42" r="1.3"/><circle cx="297.1" cy="223.71" r="1.3"/><circle cx="300.34" cy="222.01" r="1.3"/><circle cx="299.67" cy="220.3" r="1.3"/><circle cx="301.25" cy="218.59" r="1.3"/><circle cx="302.35" cy="216.89" r="1.3"/><circle cx="301.78" cy="215.18" r="1.3"/><circle cx="303.15" cy="213.48" r="1.3"/><circle cx="300.25" cy="211.77" r="1.3"/><circle cx="302.53" cy="210.07" r="1.3"/><circle cx="302.09" cy="208.36" r="1.3"/><circle cx="301.04" cy="206.66" r="1.3"/><circle cx="301.22" cy="204.95" r="1.3"/><circle cx="301.09" cy="203.24" r="1.3"/><circle cx="303.3" cy="201.54" r="1.3"/><circle cx="302.16" cy="199.83" r="1.3"/><circle cx="304.53" cy="198.13" r="1.3"/><circle cx="302.34" cy="196.42" r="1.3"/><circle cx="305.08" cy="194.72" r="1.3"/><circle cx="304.31" cy="193.01" r="1.3"/><circle cx="302.81" cy="191.31" r="1.3"/><circle cx="305.92" cy="189.6" r="1.3"/><circle cx="307.06" cy="187.89" r="1.3"/><circle cx="305.8" cy="186.19" r="1.3"/><circle cx="303.97" cy="184.48" r="1.3"/><circle cx="305.72" cy="182.78" r="1.3"/><circle cx="303.92" cy="181.07" r="1.3"/><circle cx="305.64" cy="179.37" r="1.3"/><circle cx="304.79" cy="177.66" r="1.3"/><circle cx="306.02" cy="175.96" r="1.3"/><circle cx="306.98" cy="174.25" r="1.3"/><circle cx="305.21" cy="172.54" r="1.3"/><circle cx="307.44" cy="170.84" r="1.3"/><circle cx="305.16" cy="169.13" r="1.3"/><circle cx="306.7" cy="167.43" r="1.3"/><circle cx="307.26" cy="165.72" r="1.3"/><circle cx="307.1" cy="164.02" r="1.3"/><circle cx="306.52" cy="162.31" r="1.3"/><circle cx="307.22" cy="160.61" r="1.3"/><circle cx="305.92" cy="158.9" r="1.3"/><circle cx="306.12" cy="157.19" r="1.3"/><circle cx="307.51" cy="155.49" r="1.3"/><circle cx="307.94" cy="153.78" r="1.3"/><circle cx="306.75" cy="152.08" r="1.3"/><circle cx="306.96" cy="150.37" r="1.3"/><circle cx="306.15" cy="148.67" r="1.3"/><circle cx="307.79" cy="146.96" r="1.3"/><circle cx="305.56" cy="145.26" r="1.3"/><circle cx="289.24" cy="129.91" r="1.3"/><circle cx="287.76" cy="128.2" r="1.3"/><circle cx="280.83" cy="126.49" r="1.3"/><circle cx="275.35" cy="124.79" r="1.3"/><circle cx="271.88" cy="123.08" r="1.3"/><circle cx="269.95" cy="121.38" r="1.3"/><circle cx="266.68" cy="119.67" r="1.3"/><circle cx="262.19" cy="117.97" r="1.3"/><circle cx="256.77" cy="116.26" r="1.3"/><circle cx="249.41" cy="114.56" r="1.3"/><circle cx="245.89" cy="112.85" r="1.3"/><circle cx="245.35" cy="111.14" r="1.3"/><circle cx="242.83" cy="109.44" r="1.3"/><circle cx="241.33" cy="107.73" r="1.3"/><circle cx="237.1" cy="106.03" r="1.3"/><circle cx="234.52" cy="104.32" r="1.3"/><circle cx="233.85" cy="102.62" r="1.3"/><circle cx="232.42" cy="100.91" r="1.3"/><circle cx="233.17" cy="99.21" r="1.3"/><circle cx="229.26" cy="97.5" r="1.3"/><circle cx="312.99" cy="158.9" r="1.3"/><circle cx="308.89" cy="189.6" r="1.3"/><circle cx="304.78" cy="220.3" r="1.3"/><circle cx="248.11" cy="312.4" r="1.3"/><circle cx="239.49" cy="100.06" r="1.3"/></g>
<path d="M287.53 97.5V343.1" stroke="#ffee00" stroke-width="1.2"/>
<polyline points="234.22,343.1 234.14,342.62 233.99,341.66 233.75,340.22 233.43,338.31 233.11,336.39 232.8,334.47 232.48,332.55 232.16,330.64 231.85,328.72 231.53,326.8 231.21,324.89 230.9,322.97 230.58,321.13 230.26,319.37 229.94,317.7 229.63,316.1 229.63,314.5 229.94,312.9 230.58,311.3 231.53,309.71 232.56,308.11 233.67,306.51 234.86,304.91 236.12,303.32 237.47,301.64 238.9,299.88 240.4,298.04 241.99,296.13 243.65,294.29 245.39,292.53 247.21,290.85 249.12,289.26 251.02,287.74 252.92,286.3 254.82,284.94 256.72,283.66 258.46,282.31 260.05,280.87 261.47,279.35 262.74,277.75 263.3,276.39 263.14,275.28 262.27,274.4 260.68,273.76 259.65,273.04 259.18,272.24 259.26,271.36 259.89,270.4 260.84,269.12 262.11,267.53 263.69,265.61 265.59,263.37 267.34,261.13 268.92,258.9 270.35,256.66 271.61,254.42 272.88,252.11 274.15,249.71 275.42,247.23 276.68,244.68 277.95,242.12 279.22,239.57 280.49,237.01 281.75,234.45 282.89,231.9 283.91,229.34 284.8,226.78 285.56,224.23 286.17,221.99 286.65,220.07 286.98,218.47 287.17,217.2 287.31,216.24 287.41,215.6 287.46,215.28 288.72,212.54 291.26,199.76 293.79,186.97 295.06,174.19 296.33,161.41 296.33,148.63 295.06,143.52 291.26,138.4 281.12,132.01 273.51,126.9 270.98,125.62 270.5,125.46 269.55,125.14 268.13,124.66 266.23,124.02 264.33,123.3 262.42,122.5 260.52,121.63 258.62,120.67 256.88,119.63 255.29,118.51 253.87,117.31 252.6,116.03 251.41,114.68 250.3,113.24 249.27,111.72 248.32,110.12 247.45,108.6 246.66,107.17 245.95,105.81 245.31,104.53 244.68,103.25 244.05,101.97 243.41,100.7 242.78,99.42 242.3,98.46 241.99,97.82 241.83,97.5" fill="none" stroke="#ea1418" stroke-width="1.55" stroke-linejoin="round"/>
<polyline points="295.06,343.1 296.33,337.99 302.67,334.15 297.6,330.32 303.93,327.76 298.86,323.93 305.2,321.37 300.13,317.54 305.2,312.42 301.4,308.59 303.93,304.75 297.6,300.92 296.33,295.81 292.53,291.97 287.46,288.14 282.39,285.58 281.12,281.75 283.65,277.91 282.39,272.8 278.58,270.24 279.85,266.41 282.39,261.29 283.65,256.18 281.12,251.07 282.39,245.96 281.12,240.84 283.65,235.73 284.92,230.62 286.19,225.5 287.46,217.84 286.7,220.21 288.72,212.54 291.26,199.76 293.79,186.97 295.06,174.19 296.33,161.41 296.33,148.63 295.06,143.52 291.26,138.4 281.12,132.01 273.51,126.9 270.98,124.34 276.05,119.23 279.85,112.84 282.39,106.45 285.68,100.06 286.19,97.5" fill="none" stroke="#1010ee" stroke-width="1.55" stroke-linejoin="round"/>
</g>
<g fill="none" stroke="#e8161a" stroke-width="0.9"><circle cx="242.59" cy="343.1" r="2.4"/><circle cx="242.59" cy="332.87" r="2.4"/><circle cx="242.59" cy="322.63" r="2.4"/><circle cx="244.36" cy="312.4" r="2.4"/><circle cx="244.36" cy="302.17" r="2.4"/><circle cx="250.19" cy="291.93" r="2.4"/><circle cx="260.33" cy="281.7" r="2.4"/><circle cx="264.64" cy="271.47" r="2.4"/><circle cx="265.91" cy="261.23" r="2.4"/><circle cx="267.18" cy="251" r="2.4"/><circle cx="268.44" cy="240.77" r="2.4"/><circle cx="269.71" cy="230.53" r="2.4"/><circle cx="270.98" cy="220.3" r="2.4"/><circle cx="271.74" cy="210.07" r="2.4"/><circle cx="272.75" cy="199.83" r="2.4"/><circle cx="274.02" cy="189.6" r="2.4"/><circle cx="275.54" cy="179.37" r="2.4"/><circle cx="276.56" cy="169.13" r="2.4"/><circle cx="278.08" cy="158.9" r="2.4"/><circle cx="278.58" cy="148.67" r="2.4"/><circle cx="270.47" cy="138.43" r="2.4"/><circle cx="262.87" cy="128.2" r="2.4"/><circle cx="255.77" cy="117.97" r="2.4"/><circle cx="251.21" cy="107.73" r="2.4"/><circle cx="246.14" cy="97.5" r="2.4"/></g>
<g fill="#e8161a"><circle cx="242.59" cy="343.1" r="1.9"/><circle cx="242.59" cy="332.87" r="1.9"/><circle cx="242.59" cy="322.63" r="1.9"/><circle cx="243.1" cy="312.4" r="1.9"/><circle cx="244.36" cy="302.17" r="1.9"/><circle cx="248.17" cy="291.93" r="1.9"/><circle cx="255.77" cy="281.7" r="1.9"/><circle cx="259.57" cy="271.47" r="1.9"/><circle cx="261.6" cy="261.23" r="1.9"/><circle cx="264.64" cy="251" r="1.9"/><circle cx="266.67" cy="240.77" r="1.9"/><circle cx="267.18" cy="230.53" r="1.9"/><circle cx="266.92" cy="220.3" r="1.9"/><circle cx="267.94" cy="210.07" r="1.9"/><circle cx="268.95" cy="199.83" r="1.9"/><circle cx="270.47" cy="189.6" r="1.9"/><circle cx="272.25" cy="179.37" r="1.9"/><circle cx="275.54" cy="169.13" r="1.9"/><circle cx="276.56" cy="158.9" r="1.9"/><circle cx="278.58" cy="148.67" r="1.9"/><circle cx="266.67" cy="138.43" r="1.9"/><circle cx="257.8" cy="128.2" r="1.9"/><circle cx="252.73" cy="117.97" r="1.9"/><circle cx="248.67" cy="107.73" r="1.9"/><circle cx="243.6" cy="97.5" r="1.9"/></g>
<g fill="none" stroke="#1414e6" stroke-width="0.9"><circle cx="289.23" cy="343.1" r="2.4"/><circle cx="284.92" cy="332.87" r="2.4"/><circle cx="284.16" cy="322.63" r="2.4"/><circle cx="285.68" cy="312.4" r="2.4"/><circle cx="283.65" cy="302.17" r="2.4"/><circle cx="275.54" cy="291.93" r="2.4"/><circle cx="274.28" cy="281.7" r="2.4"/><circle cx="275.54" cy="271.47" r="2.4"/><circle cx="279.09" cy="261.23" r="2.4"/><circle cx="280.61" cy="251" r="2.4"/><circle cx="281.12" cy="240.77" r="2.4"/><circle cx="282.39" cy="230.53" r="2.4"/><circle cx="282.39" cy="220.3" r="2.4"/><circle cx="281.88" cy="210.07" r="2.4"/><circle cx="283.15" cy="199.83" r="2.4"/><circle cx="283.65" cy="189.6" r="2.4"/><circle cx="286.19" cy="179.37" r="2.4"/><circle cx="287.46" cy="169.13" r="2.4"/><circle cx="288.72" cy="158.9" r="2.4"/><circle cx="289.23" cy="148.67" r="2.4"/><circle cx="283.65" cy="138.43" r="2.4"/><circle cx="283.65" cy="128.2" r="2.4"/><circle cx="283.15" cy="117.97" r="2.4"/><circle cx="279.85" cy="107.73" r="2.4"/><circle cx="277.32" cy="97.5" r="2.4"/></g>
<g fill="#1414e6"><circle cx="293.79" cy="343.1" r="1.9"/><circle cx="291.77" cy="332.87" r="1.9"/><circle cx="292.53" cy="322.63" r="1.9"/><circle cx="291.77" cy="312.4" r="1.9"/><circle cx="288.22" cy="302.17" r="1.9"/><circle cx="281.12" cy="291.93" r="1.9"/><circle cx="283.15" cy="281.7" r="1.9"/><circle cx="281.88" cy="271.47" r="1.9"/><circle cx="279.09" cy="261.23" r="1.9"/><circle cx="276.05" cy="251" r="1.9"/><circle cx="277.32" cy="240.77" r="1.9"/><circle cx="278.58" cy="230.53" r="1.9"/><circle cx="279.09" cy="220.3" r="1.9"/><circle cx="283.65" cy="210.07" r="1.9"/><circle cx="283.15" cy="199.83" r="1.9"/><circle cx="283.65" cy="189.6" r="1.9"/><circle cx="284.16" cy="179.37" r="1.9"/><circle cx="284.16" cy="169.13" r="1.9"/><circle cx="283.65" cy="158.9" r="1.9"/><circle cx="284.16" cy="148.67" r="1.9"/><circle cx="281.12" cy="138.43" r="1.9"/><circle cx="283.65" cy="128.2" r="1.9"/><circle cx="283.15" cy="117.97" r="1.9"/><circle cx="284.92" cy="107.73" r="1.9"/><circle cx="283.15" cy="97.5" r="1.9"/></g>
<path d="M205.4 332.87h2.6M328.6 332.87h-2.6M205.4 322.63h2.6M328.6 322.63h-2.6M205.4 312.4h2.6M328.6 312.4h-2.6M205.4 302.17h2.6M328.6 302.17h-2.6M205.4 291.93h2.6M328.6 291.93h-2.6M205.4 281.7h2.6M328.6 281.7h-2.6M205.4 271.47h2.6M328.6 271.47h-2.6M205.4 261.23h2.6M328.6 261.23h-2.6M205.4 251h2.6M328.6 251h-2.6M205.4 240.77h2.6M328.6 240.77h-2.6M205.4 230.53h2.6M328.6 230.53h-2.6M205.4 220.3h2.6M328.6 220.3h-2.6M205.4 210.07h2.6M328.6 210.07h-2.6M205.4 199.83h2.6M328.6 199.83h-2.6M205.4 189.6h2.6M328.6 189.6h-2.6M205.4 179.37h2.6M328.6 179.37h-2.6M205.4 169.13h2.6M328.6 169.13h-2.6M205.4 158.9h2.6M328.6 158.9h-2.6M205.4 148.67h2.6M328.6 148.67h-2.6M205.4 138.43h2.6M328.6 138.43h-2.6M205.4 128.2h2.6M328.6 128.2h-2.6M205.4 117.97h2.6M328.6 117.97h-2.6M205.4 107.73h2.6M328.6 107.73h-2.6M205.4 343.1v-2.6M205.4 97.5v2.6M225.93 343.1v-2.6M225.93 97.5v2.6M246.47 343.1v-2.6M246.47 97.5v2.6M267 343.1v-2.6M267 97.5v2.6M287.53 343.1v-2.6M287.53 97.5v2.6M308.07 343.1v-2.6M308.07 97.5v2.6M328.6 343.1v-2.6M328.6 97.5v2.6" stroke="#4d4d4d" stroke-width="0.7" fill="none"/>
<rect x="205.4" y="97.5" width="123.2" height="245.6" fill="none" stroke="#4d4d4d" stroke-width="0.9"/>
<text transform="translate(208.5,347.5) scale(1.0,1) rotate(-90)" font-size="7.9" font-weight="bold" text-anchor="end" fill="#000">20</text>
<text transform="translate(229.03,347.5) scale(1.0,1) rotate(-90)" font-size="7.9" font-weight="bold" text-anchor="end" fill="#000">15</text>
<text transform="translate(249.57,347.5) scale(1.0,1) rotate(-90)" font-size="7.9" font-weight="bold" text-anchor="end" fill="#000">10</text>
<text transform="translate(270.1,347.5) scale(1.0,1) rotate(-90)" font-size="7.9" font-weight="bold" text-anchor="end" fill="#000">5</text>
<text transform="translate(290.63,347.5) scale(1.0,1) rotate(-90)" font-size="7.9" font-weight="bold" text-anchor="end" fill="#000">0</text>
<text transform="translate(311.17,347.5) scale(1.0,1) rotate(-90)" font-size="7.9" font-weight="bold" text-anchor="end" fill="#000">-5</text>
<text transform="translate(331.7,347.5) scale(1.0,1) rotate(-90)" font-size="7.9" font-weight="bold" text-anchor="end" fill="#000">-10</text>
<text transform="translate(267.2,363.1) scale(1.0,1) rotate(180)" font-size="10.5" font-weight="bold" text-anchor="middle" fill="#000">Temperature (<tspan font-size="7" dy="-3.4">o</tspan><tspan dy="3.4">C)</tspan></text>
<text transform="translate(188.4,220.3) scale(1.0,1) rotate(-90)" font-size="10.4" font-weight="bold" text-anchor="middle" fill="#000">Observed vs.</text>
<text transform="translate(201.6,220.3) scale(1.0,1) rotate(-90)" font-size="10.4" font-weight="bold" text-anchor="middle" fill="#000">Predicted (Initial time 2022.10.16 09 LST)</text>
<rect x="206.6" y="3.4" width="97.8" height="90" fill="#e6e6e6" stroke="#4d4d4d" stroke-width="0.8"/>
<path d="M213.9 67.5V91" stroke="#e8161a" stroke-width="1.6"/>
<circle cx="227.9" cy="79.2" r="2.6" fill="none" stroke="#e8161a" stroke-width="0.8"/>
<circle cx="241.7" cy="79.2" r="2.15" fill="#e8161a"/>
<path d="M255.6 67.5V91" stroke="#1414e6" stroke-width="1.6"/>
<circle cx="268.9" cy="79.2" r="2.6" fill="none" stroke="#1414e6" stroke-width="0.8"/>
<circle cx="282.8" cy="79.2" r="2.15" fill="#1414e6"/>
<circle cx="296.2" cy="79.2" r="2.15" fill="#00e000"/>
<text transform="translate(215.4,66) scale(1.0,1) rotate(-90)" font-size="8.3" font-weight="bold" text-anchor="start" fill="#000">TA<tspan font-size="7.1" dy="4.1">observed</tspan></text>
<text transform="translate(229.4,66) scale(1.0,1) rotate(-90)" font-size="8.3" font-weight="bold" text-anchor="start" fill="#000">TA<tspan font-size="7.1" dy="4.1">predicted(d03)</tspan></text>
<text transform="translate(243.2,66) scale(1.0,1) rotate(-90)" font-size="8.3" font-weight="bold" text-anchor="start" fill="#000">TA<tspan font-size="7.1" dy="4.1">predicted(d04)</tspan></text>
<text transform="translate(257.1,66) scale(1.0,1) rotate(-90)" font-size="8.3" font-weight="bold" text-anchor="start" fill="#000">TD<tspan font-size="7.1" dy="4.1">observed</tspan></text>
<text transform="translate(270.4,66) scale(1.0,1) rotate(-90)" font-size="8.3" font-weight="bold" text-anchor="start" fill="#000">TD<tspan font-size="7.1" dy="4.1">predicted(d03)</tspan></text>
<text transform="translate(284.3,66) scale(1.0,1) rotate(-90)" font-size="8.3" font-weight="bold" text-anchor="start" fill="#000">TD<tspan font-size="7.1" dy="4.1">predicted(d04)</tspan></text>
<text transform="translate(297.7,66) scale(1.0,1) rotate(-90)" font-size="8.3" font-weight="bold" text-anchor="start" fill="#000">TS<tspan font-size="7.1" dy="4.1">LWS</tspan></text>
<rect x="391.2" y="787.3" width="123.4" height="245.2" fill="#e6e6e6"/>
<path d="M391.2 1022.28H514.6M391.2 1012.07H514.6M391.2 1001.85H514.6M391.2 991.63H514.6M391.2 981.42H514.6M391.2 971.2H514.6M391.2 960.98H514.6M391.2 950.77H514.6M391.2 940.55H514.6M391.2 930.33H514.6M391.2 920.12H514.6M391.2 909.9H514.6M391.2 899.68H514.6M391.2 889.47H514.6M391.2 879.25H514.6M391.2 869.03H514.6M391.2 858.82H514.6M391.2 848.6H514.6M391.2 838.38H514.6M391.2 828.17H514.6M391.2 817.95H514.6M391.2 807.73H514.6M391.2 797.52H514.6M395.6 787.3V1032.5M435.3 787.3V1032.5" stroke="#d6d6d6" stroke-width="0.7" fill="none"/>
<rect x="395.6" y="836.14" width="119" height="71.93" fill="rgba(30,30,255,0.175)"/>
<path d="M475 787.3V1032.5" stroke="#444" stroke-width="0.9"/>
<path d="M391.2 1022.28h2.6M514.6 1022.28h-2.6M391.2 1012.07h2.6M514.6 1012.07h-2.6M391.2 1001.85h2.6M514.6 1001.85h-2.6M391.2 991.63h2.6M514.6 991.63h-2.6M391.2 981.42h2.6M514.6 981.42h-2.6M391.2 971.2h2.6M514.6 971.2h-2.6M391.2 960.98h2.6M514.6 960.98h-2.6M391.2 950.77h2.6M514.6 950.77h-2.6M391.2 940.55h2.6M514.6 940.55h-2.6M391.2 930.33h2.6M514.6 930.33h-2.6M391.2 920.12h2.6M514.6 920.12h-2.6M391.2 909.9h2.6M514.6 909.9h-2.6M391.2 899.68h2.6M514.6 899.68h-2.6M391.2 889.47h2.6M514.6 889.47h-2.6M391.2 879.25h2.6M514.6 879.25h-2.6M391.2 869.03h2.6M514.6 869.03h-2.6M391.2 858.82h2.6M514.6 858.82h-2.6M391.2 848.6h2.6M514.6 848.6h-2.6M391.2 838.38h2.6M514.6 838.38h-2.6M391.2 828.17h2.6M514.6 828.17h-2.6M391.2 817.95h2.6M514.6 817.95h-2.6M391.2 807.73h2.6M514.6 807.73h-2.6M391.2 797.52h2.6M514.6 797.52h-2.6M395.6 1032.5v-2.6M395.6 787.3v2.6M435.3 1032.5v-2.6M435.3 787.3v2.6M475 1032.5v-2.6M475 787.3v2.6" stroke="#4d4d4d" stroke-width="0.7" fill="none"/>
<rect x="391.2" y="787.3" width="123.4" height="245.2" fill="none" stroke="#4d4d4d" stroke-width="0.9"/>
<text transform="translate(398.1,1037) scale(1.0,1) rotate(-90)" font-size="8.2" font-weight="normal" text-anchor="end" fill="#000" stroke="#000" stroke-width="0.3">pts1</text>
<text transform="translate(437.8,1037) scale(1.0,1) rotate(-90)" font-size="8.2" font-weight="normal" text-anchor="end" fill="#000" stroke="#000" stroke-width="0.3">pts2</text>
<text transform="translate(477.5,1037) scale(1.0,1) rotate(-90)" font-size="8.2" font-weight="normal" text-anchor="end" fill="#000" stroke="#000" stroke-width="0.3">pts3</text>
<text transform="translate(453.6,1058.8) scale(1.0,1) rotate(180)" font-size="10.5" font-weight="bold" text-anchor="middle" fill="#000">Frost prediction</text>
<text transform="translate(529.2,1032.5) scale(1.0,1) rotate(-90)" font-size="9.5" font-weight="bold" text-anchor="middle" fill="#000">10.17 12:00</text>
<text transform="translate(529.2,971.2) scale(1.0,1) rotate(-90)" font-size="9.5" font-weight="bold" text-anchor="middle" fill="#000">18:00</text>
<text transform="translate(529.2,909.9) scale(1.0,1) rotate(-90)" font-size="9.5" font-weight="bold" text-anchor="middle" fill="#000">10.18 00:00</text>
<text transform="translate(529.2,848.6) scale(1.0,1) rotate(-90)" font-size="9.5" font-weight="bold" text-anchor="middle" fill="#000">06:00</text>
<text transform="translate(529.2,787.3) scale(1.0,1) rotate(-90)" font-size="9.5" font-weight="bold" text-anchor="middle" fill="#000">10.18 12:00</text>
<text transform="translate(543,909.9) scale(1.0,1) rotate(-90)" font-size="10.4" font-weight="bold" text-anchor="middle" fill="#000">Time (LST)</text>
<text transform="translate(387.5,909.9) scale(1.0,1) rotate(-90)" font-size="10.4" font-weight="bold" text-anchor="middle" fill="#000">Model initial time 2022.10.09 09 LST</text>
<rect x="391.2" y="442.4" width="123.4" height="245.3" fill="#e6e6e6"/>
<path d="M391.2 677.48H514.6M391.2 667.26H514.6M391.2 657.04H514.6M391.2 646.82H514.6M391.2 636.6H514.6M391.2 626.38H514.6M391.2 616.15H514.6M391.2 605.93H514.6M391.2 595.71H514.6M391.2 585.49H514.6M391.2 575.27H514.6M391.2 565.05H514.6M391.2 554.83H514.6M391.2 544.61H514.6M391.2 534.39H514.6M391.2 524.17H514.6M391.2 513.95H514.6M391.2 503.73H514.6M391.2 493.5H514.6M391.2 483.28H514.6M391.2 473.06H514.6M391.2 462.84H514.6M391.2 452.62H514.6M395.6 442.4V687.7M435.3 442.4V687.7" stroke="#d6d6d6" stroke-width="0.7" fill="none"/>
<rect x="395.6" y="491.26" width="119" height="71.95" fill="rgba(30,30,255,0.175)"/>
<path d="M475 442.4V687.7" stroke="#444" stroke-width="0.9"/>
<path d="M391.2 677.48h2.6M514.6 677.48h-2.6M391.2 667.26h2.6M514.6 667.26h-2.6M391.2 657.04h2.6M514.6 657.04h-2.6M391.2 646.82h2.6M514.6 646.82h-2.6M391.2 636.6h2.6M514.6 636.6h-2.6M391.2 626.38h2.6M514.6 626.38h-2.6M391.2 616.15h2.6M514.6 616.15h-2.6M391.2 605.93h2.6M514.6 605.93h-2.6M391.2 595.71h2.6M514.6 595.71h-2.6M391.2 585.49h2.6M514.6 585.49h-2.6M391.2 575.27h2.6M514.6 575.27h-2.6M391.2 565.05h2.6M514.6 565.05h-2.6M391.2 554.83h2.6M514.6 554.83h-2.6M391.2 544.61h2.6M514.6 544.61h-2.6M391.2 534.39h2.6M514.6 534.39h-2.6M391.2 524.17h2.6M514.6 524.17h-2.6M391.2 513.95h2.6M514.6 513.95h-2.6M391.2 503.73h2.6M514.6 503.73h-2.6M391.2 493.5h2.6M514.6 493.5h-2.6M391.2 483.28h2.6M514.6 483.28h-2.6M391.2 473.06h2.6M514.6 473.06h-2.6M391.2 462.84h2.6M514.6 462.84h-2.6M391.2 452.62h2.6M514.6 452.62h-2.6M395.6 687.7v-2.6M395.6 442.4v2.6M435.3 687.7v-2.6M435.3 442.4v2.6M475 687.7v-2.6M475 442.4v2.6" stroke="#4d4d4d" stroke-width="0.7" fill="none"/>
<rect x="391.2" y="442.4" width="123.4" height="245.3" fill="none" stroke="#4d4d4d" stroke-width="0.9"/>
<text transform="translate(398.1,692.2) scale(1.0,1) rotate(-90)" font-size="8.2" font-weight="normal" text-anchor="end" fill="#000" stroke="#000" stroke-width="0.3">pts1</text>
<text transform="translate(437.8,692.2) scale(1.0,1) rotate(-90)" font-size="8.2" font-weight="normal" text-anchor="end" fill="#000" stroke="#000" stroke-width="0.3">pts2</text>
<text transform="translate(477.5,692.2) scale(1.0,1) rotate(-90)" font-size="8.2" font-weight="normal" text-anchor="end" fill="#000" stroke="#000" stroke-width="0.3">pts3</text>
<text transform="translate(453.6,714) scale(1.0,1) rotate(180)" font-size="10.5" font-weight="bold" text-anchor="middle" fill="#000">Frost prediction</text>
<text transform="translate(529.2,687.7) scale(1.0,1) rotate(-90)" font-size="9.5" font-weight="bold" text-anchor="middle" fill="#000">10.17 12:00</text>
<text transform="translate(529.2,626.38) scale(1.0,1) rotate(-90)" font-size="9.5" font-weight="bold" text-anchor="middle" fill="#000">18:00</text>
<text transform="translate(529.2,565.05) scale(1.0,1) rotate(-90)" font-size="9.5" font-weight="bold" text-anchor="middle" fill="#000">10.18 00:00</text>
<text transform="translate(529.2,503.73) scale(1.0,1) rotate(-90)" font-size="9.5" font-weight="bold" text-anchor="middle" fill="#000">06:00</text>
<text transform="translate(529.2,442.4) scale(1.0,1) rotate(-90)" font-size="9.5" font-weight="bold" text-anchor="middle" fill="#000">10.18 12:00</text>
<text transform="translate(543,565.05) scale(1.0,1) rotate(-90)" font-size="10.4" font-weight="bold" text-anchor="middle" fill="#000">Time (LST)</text>
<text transform="translate(387.5,565.05) scale(1.0,1) rotate(-90)" font-size="10.4" font-weight="bold" text-anchor="middle" fill="#000">Model initial time 2022.10.12 09 LST</text>
<rect x="391.2" y="97.5" width="123.4" height="245.6" fill="#e6e6e6"/>
<path d="M391.2 332.87H514.6M391.2 322.63H514.6M391.2 312.4H514.6M391.2 302.17H514.6M391.2 291.93H514.6M391.2 281.7H514.6M391.2 271.47H514.6M391.2 261.23H514.6M391.2 251H514.6M391.2 240.77H514.6M391.2 230.53H514.6M391.2 220.3H514.6M391.2 210.07H514.6M391.2 199.83H514.6M391.2 189.6H514.6M391.2 179.37H514.6M391.2 169.13H514.6M391.2 158.9H514.6M391.2 148.67H514.6M391.2 138.43H514.6M391.2 128.2H514.6M391.2 117.97H514.6M391.2 107.73H514.6M395.6 97.5V343.1M435.3 97.5V343.1" stroke="#d6d6d6" stroke-width="0.7" fill="none"/>
<rect x="395.6" y="146.42" width="119" height="72.04" fill="rgba(30,30,255,0.175)"/>
<path d="M475 97.5V343.1" stroke="#444" stroke-width="0.9"/>
<path d="M391.2 332.87h2.6M514.6 332.87h-2.6M391.2 322.63h2.6M514.6 322.63h-2.6M391.2 312.4h2.6M514.6 312.4h-2.6M391.2 302.17h2.6M514.6 302.17h-2.6M391.2 291.93h2.6M514.6 291.93h-2.6M391.2 281.7h2.6M514.6 281.7h-2.6M391.2 271.47h2.6M514.6 271.47h-2.6M391.2 261.23h2.6M514.6 261.23h-2.6M391.2 251h2.6M514.6 251h-2.6M391.2 240.77h2.6M514.6 240.77h-2.6M391.2 230.53h2.6M514.6 230.53h-2.6M391.2 220.3h2.6M514.6 220.3h-2.6M391.2 210.07h2.6M514.6 210.07h-2.6M391.2 199.83h2.6M514.6 199.83h-2.6M391.2 189.6h2.6M514.6 189.6h-2.6M391.2 179.37h2.6M514.6 179.37h-2.6M391.2 169.13h2.6M514.6 169.13h-2.6M391.2 158.9h2.6M514.6 158.9h-2.6M391.2 148.67h2.6M514.6 148.67h-2.6M391.2 138.43h2.6M514.6 138.43h-2.6M391.2 128.2h2.6M514.6 128.2h-2.6M391.2 117.97h2.6M514.6 117.97h-2.6M391.2 107.73h2.6M514.6 107.73h-2.6M395.6 343.1v-2.6M395.6 97.5v2.6M435.3 343.1v-2.6M435.3 97.5v2.6M475 343.1v-2.6M475 97.5v2.6" stroke="#4d4d4d" stroke-width="0.7" fill="none"/>
<rect x="391.2" y="97.5" width="123.4" height="245.6" fill="none" stroke="#4d4d4d" stroke-width="0.9"/>
<text transform="translate(398.1,347.6) scale(1.0,1) rotate(-90)" font-size="8.2" font-weight="normal" text-anchor="end" fill="#000" stroke="#000" stroke-width="0.3">pts1</text>
<text transform="translate(437.8,347.6) scale(1.0,1) rotate(-90)" font-size="8.2" font-weight="normal" text-anchor="end" fill="#000" stroke="#000" stroke-width="0.3">pts2</text>
<text transform="translate(477.5,347.6) scale(1.0,1) rotate(-90)" font-size="8.2" font-weight="normal" text-anchor="end" fill="#000" stroke="#000" stroke-width="0.3">pts3</text>
<text transform="translate(453.6,369.4) scale(1.0,1) rotate(180)" font-size="10.5" font-weight="bold" text-anchor="middle" fill="#000">Frost prediction</text>
<text transform="translate(529.2,343.1) scale(1.0,1) rotate(-90)" font-size="9.5" font-weight="bold" text-anchor="middle" fill="#000">10.17 12:00</text>
<text transform="translate(529.2,281.7) scale(1.0,1) rotate(-90)" font-size="9.5" font-weight="bold" text-anchor="middle" fill="#000">18:00</text>
<text transform="translate(529.2,220.3) scale(1.0,1) rotate(-90)" font-size="9.5" font-weight="bold" text-anchor="middle" fill="#000">10.18 00:00</text>
<text transform="translate(529.2,158.9) scale(1.0,1) rotate(-90)" font-size="9.5" font-weight="bold" text-anchor="middle" fill="#000">06:00</text>
<text transform="translate(529.2,97.5) scale(1.0,1) rotate(-90)" font-size="9.5" font-weight="bold" text-anchor="middle" fill="#000">10.18 12:00</text>
<text transform="translate(543,220.3) scale(1.0,1) rotate(-90)" font-size="10.4" font-weight="bold" text-anchor="middle" fill="#000">Time (LST)</text>
<text transform="translate(387.5,220.3) scale(1.0,1) rotate(-90)" font-size="10.4" font-weight="bold" text-anchor="middle" fill="#000">Model initial time 2022.10.16 09 LST</text>
<circle cx="395.6" cy="158.9" r="1.5" fill="#e8161a"/>
<circle cx="435.3" cy="158.9" r="1.5" fill="#1414e6"/>
<circle cx="395.6" cy="148.67" r="1.5" fill="#e8161a"/>
<circle cx="435.3" cy="148.67" r="1.5" fill="#1414e6"/>
<rect x="390.3" y="6.8" width="71" height="86.6" fill="#e6e6e6" stroke="#4d4d4d" stroke-width="0.8"/>
<circle cx="397" cy="75.7" r="2.2" fill="none" stroke="#e8161a" stroke-width="0.6"/>
<text transform="translate(400,63.4) scale(1.0,1) rotate(-90)" font-size="8.2" font-weight="bold" text-anchor="start" fill="#000">Nearest(d03)</text>
<circle cx="407.8" cy="75.7" r="2.2" fill="none" stroke="#1414e6" stroke-width="0.6"/>
<text transform="translate(410.8,63.4) scale(1.0,1) rotate(-90)" font-size="8.2" font-weight="bold" text-anchor="start" fill="#000">Second(d03)</text>
<circle cx="418.6" cy="75.7" r="2.2" fill="none" stroke="#ee22ee" stroke-width="0.6"/>
<text transform="translate(421.6,63.4) scale(1.0,1) rotate(-90)" font-size="8.2" font-weight="bold" text-anchor="start" fill="#000">Third(d03)</text>
<circle cx="430" cy="75.7" r="1.7" fill="#e8161a"/>
<text transform="translate(433,63.4) scale(1.0,1) rotate(-90)" font-size="8.2" font-weight="bold" text-anchor="start" fill="#000">Nearest(d04)</text>
<circle cx="440.9" cy="75.7" r="1.7" fill="#1414e6"/>
<text transform="translate(443.9,63.4) scale(1.0,1) rotate(-90)" font-size="8.2" font-weight="bold" text-anchor="start" fill="#000">Second(d04)</text>
<circle cx="451.7" cy="75.7" r="1.7" fill="#ee22ee"/>
<text transform="translate(454.7,63.4) scale(1.0,1) rotate(-90)" font-size="8.2" font-weight="bold" text-anchor="start" fill="#000">Third(d04)</text>
</svg>
</body>
</html>
